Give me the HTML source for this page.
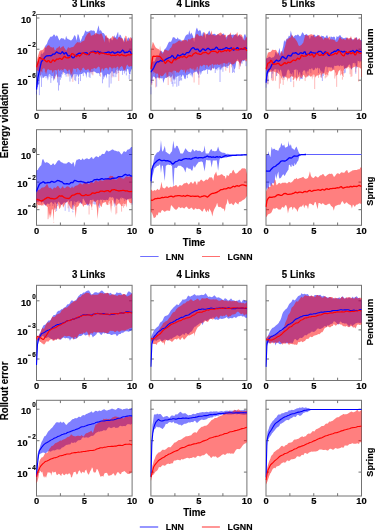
<!DOCTYPE html>
<html><head><meta charset="utf-8"><style>
html,body{margin:0;padding:0;background:#fff;width:375px;height:530px;overflow:hidden}
svg{display:block;will-change:transform;font-family:"Liberation Sans",sans-serif;font-weight:bold;fill:#000}
text{stroke:#000;stroke-width:0.15px}
</style></head><body>
<svg width="375" height="530" viewBox="0 0 375 530">
<rect width="375" height="530" fill="#fff"/>
<defs>
<clipPath id="cA0"><rect x="35.9" y="13.9" width="96.8" height="97"/></clipPath>
<clipPath id="cA1"><rect x="150.3" y="13.9" width="97.2" height="97"/></clipPath>
<clipPath id="cA2"><rect x="265.4" y="13.9" width="96.7" height="97"/></clipPath>
<clipPath id="cB0"><rect x="35.9" y="129.1" width="96.8" height="96.8"/></clipPath>
<clipPath id="cB1"><rect x="150.3" y="129.1" width="97.2" height="96.8"/></clipPath>
<clipPath id="cB2"><rect x="265.4" y="129.1" width="96.7" height="96.8"/></clipPath>
<clipPath id="cC0"><rect x="35.9" y="284.7" width="96.8" height="96.4"/></clipPath>
<clipPath id="cC1"><rect x="150.3" y="284.7" width="97.2" height="96.4"/></clipPath>
<clipPath id="cC2"><rect x="265.4" y="284.7" width="96.7" height="96.4"/></clipPath>
<clipPath id="cD0"><rect x="35.9" y="399.7" width="96.8" height="96.9"/></clipPath>
<clipPath id="cD1"><rect x="150.3" y="399.7" width="97.2" height="96.9"/></clipPath>
<clipPath id="cD2"><rect x="265.4" y="399.7" width="96.7" height="96.9"/></clipPath>
</defs>
<rect x="36.5" y="14.5" width="95.6" height="95.8" fill="none" stroke="#737373" stroke-width="1"/>
<path d="M60.4 14.5v2.8M60.4 110.3v-2.8M84.3 14.5v2.8M84.3 110.3v-2.8M108.2 14.5v2.8M108.2 110.3v-2.8M36.5 18h3M132.1 18h-3M36.5 49.2h3M132.1 49.2h-3M36.5 80.2h3M132.1 80.2h-3" stroke="#737373" stroke-width="1" fill="none"/>
<g clip-path="url(#cA0)">
<polygon points="36.5,75.51 37.46,61 38.41,62.15 38.89,62.45 39.37,61.04 40.32,57.05 41.28,50.41 41.47,53.8 42.24,54.32 43.19,52.52 44.15,52.45 45.01,47.1 45.1,46.11 46.06,45.11 47.02,43.49 47.97,40.8 48.64,39.43 48.93,39.35 49.88,37.38 50.84,36.38 51.8,36.87 52.75,35.89 53.71,34.43 54.66,34.83 55.62,36.68 56.58,35.24 57.53,36.04 58.49,38.58 59.44,40.38 60.4,38.93 61.36,37.92 62.31,38.43 63.27,38.3 64.22,39.28 65.18,40.04 66.14,35.8 67.09,38.84 68.05,38.87 69,39.7 69.96,39.84 70.92,40.8 71.87,39.86 72.83,38.73 73.78,36.48 74.74,34.99 75.7,36.84 76.65,40.67 77.61,34.15 78.56,34.87 79.52,38.33 80.48,41.84 81.43,39.09 82.01,38.03 82.39,36.34 83.34,35.44 84.3,33.54 85.26,30.56 85.64,30.5 86.21,31.43 87.17,31.85 88.12,31.83 89.08,31.24 90.04,30.68 90.99,30.19 91.95,30.59 92.9,30.82 93.86,30.42 94.82,31.2 95.77,35.24 96.73,31.89 97.68,28.54 98.64,25.21 99.6,30.87 100.07,30.96 100.55,29.69 101.51,31.37 102.46,33.01 103.42,32.93 104.38,34 105.33,35.66 105.52,35.42 106.29,37.09 107.24,38.23 108.2,37.87 109.16,43.12 110.11,37.82 111.07,38.7 112.02,40.49 112.98,39.23 113.94,35.84 114.61,35.44 114.89,37.37 115.85,37.14 116.8,34.71 117.76,32.37 118.24,32.14 118.72,38.37 119.67,34.49 120.63,35.08 121.58,37.3 121.87,38 122.54,39.06 123.5,42.47 124.45,37.13 125.41,38.38 126.36,42.16 127.32,39.05 128.28,37.16 129.23,38.55 130.19,41.14 131.14,38.71 132.1,36.63 132.1,68.25 131.14,70.27 130.19,73.17 129.23,74.79 128.28,69.59 127.32,68.69 126.36,72.44 125.41,69.7 124.45,69.75 123.5,70.94 122.54,70.89 121.87,70.39 121.58,70.58 120.63,71.31 119.67,70.47 118.72,70.79 118.24,69.47 117.76,69.57 116.8,69.8 115.85,70.81 114.89,73.57 114.61,72.59 113.94,74.32 112.98,71.9 112.02,71.34 111.07,71.94 110.11,73.83 109.16,75.32 108.2,74.01 107.24,73.67 106.29,78.77 105.52,73.76 105.33,73.93 104.38,77.58 103.42,77.52 102.46,72.57 101.51,72.4 100.55,72.54 100.07,72.79 99.6,74.38 98.64,73.12 97.68,73.27 96.73,73.3 95.77,72.55 94.82,71.68 93.86,71.54 92.9,71.72 91.95,72.45 90.99,71.79 90.04,72.94 89.08,72.54 88.12,71.56 87.17,72.31 86.21,78.2 85.64,73.43 85.26,73.53 84.3,72.3 83.34,72.52 82.39,73.53 82.01,73.93 81.43,74.09 80.48,74.33 79.52,74.32 78.56,77.82 77.61,74.6 76.65,74.56 75.7,74.37 74.74,74.32 73.78,74.21 72.83,75.29 71.87,79.16 70.92,76.26 69.96,73.58 69,74.13 68.05,72.96 67.09,73.78 66.14,74.07 65.18,73.52 64.22,72.8 63.27,71.76 62.31,72.64 61.36,75.21 60.4,77.91 59.44,76.65 58.49,76.55 57.53,77.84 56.58,74.36 55.62,75.02 54.66,76.99 53.71,81.24 52.75,76.07 51.8,76.07 50.84,75.38 49.88,73.86 48.93,74.34 48.64,75.9 47.97,80.87 47.02,76.15 46.06,75.96 45.1,76 45.01,75.69 44.15,77.33 43.19,77.94 42.24,75.22 41.47,74.36 41.28,74.57 40.32,76.74 39.37,81.19 38.89,85.74 38.41,82.94 37.46,85.74 36.5,90.39" fill="#0000ff" fill-opacity="0.5"/>
<path d="M36.5 90.39v4.06M37.46 85.74v1.09M38.41 82.94v1.58M39.37 81.19v14M41.47 74.36v12.56M42.24 75.22v2.93M46.06 75.96v2.23M49.88 73.86v2.79M50.84 75.38v7.52M51.8 76.07v2.04M54.66 76.99v1.4M55.62 75.02v1.75M57.53 77.84v4.67M58.49 76.55v14M59.44 76.65v8.61M60.4 77.91v1.88M61.36 75.21v2.56M62.31 72.64v2.05M65.18 73.52v1.46M66.14 74.07v2.58M68.05 72.96v1.16M69 74.13v1.28M69.96 73.58v8.01M72.83 75.29v1.11M74.74 74.32v5.86M75.7 74.37v6.76M76.65 74.56v1.89M78.56 77.82v6.26M80.48 74.33v6.74M83.34 72.52v3.6M88.12 71.56v1.35M89.08 72.54v4.37M90.04 72.94v5.02M91.95 72.45v1.99M99.6 74.38v1.37M102.46 72.57v10.7M103.42 77.52v1.78M105.33 73.93v1.3M109.16 75.32v12.18M111.07 71.94v11.65M112.98 71.9v4.26M113.94 74.32v2.9M115.85 70.81v6.32M116.8 69.8v4.39M117.76 69.57v1.27M118.24 69.47v3.55M122.54 70.89v3.94M124.45 69.75v3.69M125.41 69.7v1.81M126.36 72.44v2.97M129.23 74.79v4.46M130.19 73.17v1.04" stroke="#0000ff" stroke-opacity="0.35" stroke-width="0.9" fill="none"/>
<polygon points="36.5,62.45 37.46,57.82 38.41,54.82 39.37,51.51 40.32,50.54 41.28,50.23 42.24,50.01 43.19,49.5 44.15,48.06 45.01,46.35 45.1,47.2 46.06,48.12 47.02,45.84 47.97,45.75 48.93,44.85 49.88,46.19 50.84,47.35 51.8,47.29 52.75,47.83 53.71,46.89 54.66,50.14 55.62,50.28 56.58,48.3 57.53,47.86 58.49,47.35 59.44,45.68 60.4,48.23 61.36,47.31 62.31,46.74 63.27,45.87 64.22,47.64 65.18,49.11 66.14,50.79 67.09,49.26 68.05,47.26 69,47.57 69.96,48.24 70.92,47.32 71.87,47.16 72.83,46.89 73.78,46.48 74.74,45.12 75.7,43.87 76.65,42.82 77.61,41.99 78.56,42.41 79.52,42.3 80.48,42.88 81.43,42.03 82.01,41.28 82.39,41.51 83.34,40.88 84.3,40.56 85.26,37.5 86.21,35.65 87.17,34.37 88.12,33.13 89.08,32.83 90.04,32.21 90.99,36.07 91.95,35.22 92.9,35.13 93.86,34.68 94.82,33.84 95.77,33.02 96.73,33.31 97.68,33.92 98.64,34.36 99.6,34.57 100.55,33.49 101.51,33.51 102.46,35.8 103.42,38.58 103.9,40.14 104.38,42.47 105.33,36.08 106.29,35.01 107.24,36.99 108.2,38.29 109.16,38.78 110.11,39.03 111.07,38.19 112.02,36.77 112.98,35.82 113.94,37.46 114.89,37.68 115.85,38.35 116.8,39.42 117.76,39.2 118.24,37.14 118.72,37.17 119.67,36.71 120.63,37.89 121.58,38.31 122.54,38.34 123.5,40.23 124.45,42.16 125.41,35.69 126.36,36.05 127.32,40.41 128.28,41.26 129.23,38.84 130.19,36.99 131.14,37.91 132.1,38.68 132.1,66.23 131.14,66.27 130.19,66.15 129.23,67.04 128.28,65.92 127.32,64.42 126.36,65.96 125.41,69.59 124.45,70.69 123.5,69.56 122.54,66.75 121.58,66.01 120.63,66.96 119.67,67.14 118.72,71.38 118.24,67.24 117.76,66.43 116.8,67.17 115.85,68.14 114.89,67.76 113.94,67.3 112.98,68.3 112.02,68.88 111.07,67.94 110.11,67.05 109.16,67.4 108.2,70.66 107.24,67.98 106.29,67.74 105.33,67.91 104.38,68.84 103.9,71.23 103.42,69.97 102.46,68.35 101.51,68.98 100.55,73.68 99.6,67.3 98.64,66.45 97.68,67.22 96.73,68.14 95.77,68.93 94.82,68.1 93.86,68.29 92.9,69.06 91.95,68.8 90.99,69.47 90.04,71.86 89.08,70.05 88.12,68.69 87.17,68.92 86.21,70.36 85.26,70.02 84.3,68.68 83.34,67.59 82.39,68.21 82.01,70.26 81.43,69.68 80.48,70.19 79.52,70.31 78.56,68.82 77.61,68.03 76.65,67.88 75.7,68.93 74.74,69.11 73.78,68.34 72.83,69.58 71.87,73.28 70.92,75.45 69.96,70.45 69,69.19 68.05,71.37 67.09,71.16 66.14,69.61 65.18,69.04 64.22,68.66 63.27,69.98 62.31,70.37 61.36,68.75 60.4,70.01 59.44,71.12 58.49,69.01 57.53,70.31 56.58,70.43 55.62,70.11 54.66,69.91 53.71,70.49 52.75,73.21 51.8,70.36 50.84,70.37 49.88,70.18 48.93,69.5 47.97,69 47.02,70.4 46.06,74.48 45.1,70.64 45.01,69.08 44.15,67.97 43.19,68.43 42.24,69.86 41.28,72.09 40.32,71.22 39.37,71.94 38.41,71.1 37.46,70.46 36.5,70.43" fill="#ff0000" fill-opacity="0.5"/>
<path d="M40.32 71.22v3.8M42.24 69.86v2.76M44.15 67.97v1.69M45.1 70.64v1.15M54.66 69.91v9.45M57.53 70.31v7.97M61.36 68.75v2.05M63.27 69.98v3.61M68.05 71.37v5.34M72.83 69.58v12.25M76.65 67.88v3.87M80.48 70.19v1.84M82.01 70.26v0.88M87.17 68.92v1.11M90.99 69.47v3.85M92.9 69.06v6.3M100.55 73.68v2.97M112.02 68.88v8.59M113.94 67.3v1.31M115.85 68.14v5.45M118.72 71.38v9.62M119.67 67.14v1.17" stroke="#ff0000" stroke-opacity="0.3" stroke-width="0.9" fill="none"/>
<polyline points="36.5,89.6 37.46,80.32 38.41,75.36 39.37,71.04 40.32,66.3 41.28,62.16 42.24,60.57 43.19,59.64 44.15,58.41 45.1,57.01 46.06,56.18 47.02,55.73 47.97,55.79 48.93,55.58 49.88,55.56 50.84,55.86 51.8,55.27 52.75,54.23 53.71,54.1 54.66,54.15 55.62,52.91 56.58,51.82 57.53,52.52 58.49,53.15 59.44,53.2 60.4,53.72 61.36,52.97 62.31,51.72 63.27,52.77 64.22,54.05 65.18,52.98 66.14,52.65 67.09,54.42 68.05,55.86 69,55.91 69.96,55.47 70.92,55.88 71.87,56.94 72.83,57.9 73.78,57.65 74.74,56.42 75.7,55.58 76.65,54.78 77.61,54.15 78.56,53.28 79.52,53.12 80.48,53.41 81.43,53.38 82.39,53.52 83.34,53.2 84.3,52.91 85.26,52.78 86.21,52.55 87.17,53.03 88.12,54.51 89.08,54.65 90.04,52.66 90.99,51.88 91.95,51.68 92.9,51.28 93.86,51.33 94.82,51.32 95.77,52.06 96.73,52.23 97.68,51.25 98.64,51.9 99.6,52.46 100.55,52.15 101.51,52.76 102.46,53.03 103.42,53.12 104.38,53.09 105.33,52.53 106.29,52.71 107.24,52.48 108.2,51.88 109.16,52.16 110.11,52.79 111.07,52.73 112.02,51.94 112.98,51.95 113.94,52.93 114.89,53.28 115.85,52.8 116.8,52.32 117.76,51.77 118.72,52.05 119.67,52.61 120.63,52.36 121.58,51.25 122.54,50.03 123.5,50.92 124.45,52.76 125.41,52.61 126.36,52.06 127.32,52.35 128.28,51.79 129.23,51.02 130.19,51.55 131.14,53.42 132.1,53.8" fill="none" stroke="#0000ff" stroke-width="1.3" stroke-linejoin="round"/>
<polyline points="36.5,67.21 37.46,64.34 38.41,61.61 39.37,57.66 40.32,57.54 41.28,58.75 42.24,59.05 43.19,59.12 44.15,59.67 45.1,60.42 46.06,61.46 47.02,61.89 47.97,60.71 48.93,60.64 49.88,62.08 50.84,62.49 51.8,61.32 52.75,59.98 53.71,60.15 54.66,61.2 55.62,60.49 56.58,59.11 57.53,59.03 58.49,59.12 59.44,58.44 60.4,58.39 61.36,59.3 62.31,59.14 63.27,57.63 64.22,56.5 65.18,56.75 66.14,57.67 67.09,57.88 68.05,57.65 69,57.74 69.96,57.06 70.92,55.11 71.87,53.69 72.83,53.82 73.78,54.47 74.74,55.31 75.7,56.35 76.65,56.59 77.61,55.32 78.56,55.06 79.52,56.26 80.48,55.54 81.43,54.07 82.39,53.16 83.34,52.79 84.3,53.45 85.26,54.14 86.21,54.51 87.17,54.52 88.12,54.31 89.08,53.95 90.04,52.9 90.99,52.36 91.95,52.16 92.9,51.83 93.86,52.13 94.82,52.92 95.77,53.49 96.73,52.81 97.68,52.04 98.64,53.43 99.6,54.12 100.55,52.79 101.51,52.83 102.46,53.46 103.42,53.19 104.38,53.55 105.33,53.82 106.29,53.68 107.24,54.46 108.2,54.57 109.16,53.91 110.11,54.68 111.07,55.52 112.02,55.26 112.98,55.38 113.94,55.39 114.89,55.21 115.85,55.52 116.8,54.97 117.76,54.25 118.72,54.93 119.67,55.66 120.63,55.16 121.58,54.43 122.54,55 123.5,55.66 124.45,55.5 125.41,55.83 126.36,55.78 127.32,55.09 128.28,54.77 129.23,54.82 130.19,55.05 131.14,54.53 132.1,53.96" fill="none" stroke="#ff0000" stroke-width="1.3" stroke-linejoin="round"/>
</g>
<g font-size="9.4" text-anchor="middle"><text transform="translate(36.7,118.7) scale(1,1.03)" >0</text><text transform="translate(84.3,118.7) scale(1,1.03)" >5</text><text transform="translate(132.1,118.7) scale(1,1.03)" >10</text></g>
<text transform="translate(31.3,22.8) scale(1,1.07)" text-anchor="end" font-size="9.3">10</text>
<text transform="translate(35.9,16.1) scale(1,1.15)" text-anchor="end" font-size="6.4">2</text>
<text transform="translate(27.6,54) scale(1,1.07)" text-anchor="end" font-size="9.3">10</text>
<text transform="translate(35.9,47.3) scale(1,1.15)" text-anchor="end" font-size="6.4">2</text>
<rect x="28" y="44.9" width="2.7" height="1.1" fill="#000"/>
<text transform="translate(27.6,85) scale(1,1.07)" text-anchor="end" font-size="9.3">10</text>
<text transform="translate(35.9,78.3) scale(1,1.15)" text-anchor="end" font-size="6.4">6</text>
<rect x="28" y="75.9" width="2.7" height="1.1" fill="#000"/>
<rect x="150.9" y="14.5" width="96" height="95.8" fill="none" stroke="#737373" stroke-width="1"/>
<path d="M174.9 14.5v2.8M174.9 110.3v-2.8M198.9 14.5v2.8M198.9 110.3v-2.8M222.9 14.5v2.8M222.9 110.3v-2.8M150.9 18h3M246.9 18h-3M150.9 49.2h3M246.9 49.2h-3M150.9 80.2h3M246.9 80.2h-3" stroke="#737373" stroke-width="1" fill="none"/>
<g clip-path="url(#cA1)">
<polygon points="150.9,63.92 151.86,62.32 152.82,61.8 153.3,61.36 153.78,61.39 154.74,61.16 155.7,58.55 156.66,56.27 157.62,56 158.58,55.75 159.54,53.3 160.5,50.89 161.46,50.82 162.42,51.93 163.38,52.52 164.34,49.42 165.3,48.83 166.26,47.57 167.22,45.41 168.18,43.18 169.14,41.72 170.1,41.66 171.06,41.66 172.02,39.42 172.6,37.8 172.98,37.13 173.94,37.32 174.9,37.63 175.86,38.89 176.82,38.91 177.78,37.13 178.74,39.59 179.7,39.24 180.66,39.73 181.62,40.59 182.58,41.02 183.54,40.63 184.5,38.24 185.46,35.93 186.42,34.99 187.38,34.28 188.34,34.73 189.3,30.23 190.26,34.67 191.22,32.51 192.18,34.16 193.14,36.61 194.1,42.3 195.06,34.8 196.02,29.54 196.98,27.5 197.94,30.17 198.9,31.15 199.86,29.7 200.82,31.19 201.78,36.23 202.74,32.84 203.7,31.89 204.66,34.54 205.62,39 206.1,33.8 206.58,34.07 207.54,34.23 208.5,31.77 209.46,30.5 210.42,33.31 211.38,34.89 212.34,34.43 213.3,33.91 214.26,33.68 215.22,34.12 216.18,35.46 217.14,34.38 218.1,34.34 219.06,34.8 220.02,35.73 220.98,35.21 221.94,34.27 222.9,33.76 223.86,33.39 224.82,35.7 225.78,37.74 226.74,36.5 227.7,35.25 228.66,35.2 229.62,34.62 230.58,34.39 231.54,34.95 232.5,34.73 233.46,34.47 234.42,34.96 235.38,34.34 236.34,34.6 237.3,36.68 238.26,35.87 239.22,34.59 240.18,35.99 241.14,36.49 242.1,37.03 243.06,40.25 244.02,35.42 244.98,33.71 245.94,36.02 246.9,38.48 246.9,58.94 245.94,58.59 244.98,59.91 244.02,61.15 243.06,60.94 242.1,60.32 241.14,63.63 240.18,62.53 239.22,62.81 238.26,60.21 237.3,59.31 236.34,61.49 235.38,67.49 234.42,70.31 233.46,65.78 232.5,66.16 231.54,64.19 230.58,64.09 229.62,64.12 228.66,65.92 227.7,66.55 226.74,66.37 225.78,67.1 224.82,66.47 223.86,66.42 222.9,67.13 221.94,67.37 220.98,70.41 220.02,68.02 219.06,67.12 218.1,67.86 217.14,69.04 216.18,69.21 215.22,69.82 214.26,67.23 213.3,68.9 212.34,67.86 211.38,70.46 210.42,70.52 209.46,69.53 208.5,69.65 207.54,69.28 206.58,69.11 206.1,70.04 205.62,70.09 204.66,70.42 203.7,70.32 202.74,71.01 201.78,71.36 200.82,75.35 199.86,70.62 198.9,75.34 197.94,74.07 196.98,71.73 196.02,71.44 195.06,72.27 194.1,72.15 193.14,72.93 192.18,77.71 191.22,73.53 190.26,72.33 189.3,73.94 188.34,74.28 187.38,75.55 186.42,74.79 185.46,79.37 184.5,78.73 183.54,75.39 182.58,74.58 181.62,77.82 180.66,74.58 179.7,75.48 178.74,76.08 177.78,75.83 176.82,77.98 175.86,76.37 174.9,81.43 173.94,78.33 172.98,81.41 172.6,75.48 172.02,75.64 171.06,77.43 170.1,76.13 169.14,76.28 168.18,76.74 167.22,77.2 166.26,78.1 165.3,77.86 164.34,79.23 163.38,83.3 162.42,77.66 161.46,78.4 160.5,78.28 159.54,77.83 158.58,77.67 157.62,77.45 156.66,78.06 155.7,78.81 154.74,77.2 153.78,76.45 153.3,76.43 152.82,77.39 151.86,81.64 150.9,86.63" fill="#0000ff" fill-opacity="0.5"/>
<path d="M150.9 86.63v7.75M151.86 81.64v1.27M156.66 78.06v8.57M170.1 76.13v1.74M172.02 75.64v8.36M172.98 81.41v5.18M174.9 81.43v2.31M176.82 77.98v8.78M178.74 76.08v9.71M179.7 75.48v5.61M180.66 74.58v5.67M181.62 77.82v2.71M187.38 75.55v2.57M190.26 72.33v2.99M198.9 75.34v2.31M207.54 69.28v4.61M215.22 69.82v3.17M217.14 69.04v1.35M219.06 67.12v2.38M220.02 68.02v14M222.9 67.13v4.62M226.74 66.37v1.41M227.7 66.55v1.52M229.62 64.12v1.05M232.5 66.16v6.74M233.46 65.78v6.14M234.42 70.31v2.43M240.18 62.53v4.06M242.1 60.32v3.4M245.94 58.59v7.56" stroke="#0000ff" stroke-opacity="0.35" stroke-width="0.9" fill="none"/>
<polygon points="150.9,50.96 151.86,46.22 152.82,41.71 153.78,43.57 154.74,45.82 155.7,47.46 156.66,48.31 157.62,48.82 158.58,49.08 159.54,50.77 160.02,45.6 160.5,50.07 161.46,52.28 162.42,54.1 163.38,52.17 164.34,50.23 165.3,49.63 166.26,49.91 167.22,50.43 168.18,50.84 169.14,50.15 170.1,48.26 171.06,47.81 172.02,45.75 172.6,43.95 172.98,43.86 173.94,43.42 174.9,43.4 175.86,42.84 176.82,42.19 177.78,41.47 178.07,40.99 178.74,40.65 179.7,40.41 180.66,41.61 181.62,41.58 182.58,40.01 183.54,39.77 184.5,40.26 185.46,40 186.42,40.04 187.09,41.03 187.38,41.78 188.34,39 189.3,39.6 190.26,39.58 191.22,38.45 192.18,37.71 193.14,37.71 194.1,38.33 195.06,37.36 196.02,34.87 196.98,33.66 197.94,34.53 198.9,35.74 199.86,36.29 200.82,35.43 201.78,35.72 202.74,36.86 203.7,33.86 204.66,31.88 205.62,33.96 206.1,34.92 206.58,34.67 207.54,32.88 208.5,35.23 209.46,34.82 210.42,34.39 211.38,30.45 212.34,34.54 213.3,34.98 214.26,35.21 215.22,35.74 216.18,35.18 217.14,34.63 218.1,33.96 219.06,33.4 220.02,32.65 220.98,32.5 221.94,33.79 222.9,34.9 223.86,35.28 224.82,34.72 225.78,34.77 226.74,40.02 227.7,35.34 228.66,34.76 229.62,34.43 230.58,32.34 231.54,36.3 232.5,38.46 233.46,36.54 234.42,35.06 235.38,34.86 236.34,34 237.3,31.98 238.26,36.41 239.22,34.45 240.18,34.48 241.14,34.58 242.1,35.48 243.06,38.11 244.02,40.35 244.98,40.14 245.94,37.12 246.9,37.39 246.9,60.13 245.94,61.81 244.98,60.12 244.02,59.85 243.06,60.41 242.1,60.29 241.14,62.44 240.18,66.53 239.22,62.66 238.26,61.14 237.3,60.95 236.34,61.37 235.38,62.56 234.42,63.64 233.46,64.24 232.5,64.4 231.54,64.31 230.58,62.85 229.62,62.3 228.66,62.48 227.7,63.13 226.74,63.65 225.78,63.63 224.82,63.16 223.86,62.98 222.9,63.43 221.94,63.72 220.98,63.85 220.02,64.59 219.06,65.09 218.1,64.76 217.14,63.94 216.18,65.17 215.22,64.34 214.26,65 213.3,64.74 212.34,64.08 211.38,64.42 210.42,65.35 209.46,65.45 208.5,67.22 207.54,65.23 206.58,64.92 206.1,65.52 205.62,65.72 204.66,65.01 203.7,64.75 202.74,65.62 201.78,66.69 200.82,65.4 199.86,65.64 198.9,70.85 197.94,67.28 196.98,66.46 196.02,71.25 195.06,68.78 194.1,72.06 193.14,67.92 192.18,70.05 191.22,68.43 190.26,68.37 189.3,68.83 188.34,69.73 187.38,69.54 187.09,70.25 186.42,70.24 185.46,73.91 184.5,69.64 183.54,69.73 182.58,70.04 181.62,69.42 180.66,69.83 179.7,71.35 178.74,72.49 178.07,72.74 177.78,71.87 176.82,72.9 175.86,70.91 174.9,70.64 173.94,70.57 172.98,70.93 172.6,71.02 172.02,72.19 171.06,72.67 170.1,72.02 169.14,71.87 168.18,72.89 167.22,77.72 166.26,71.7 165.3,72.92 164.34,74.06 163.38,75.38 162.42,76.11 161.46,76.26 160.5,75.32 160.02,76.12 159.54,80.17 158.58,75.47 157.62,73.57 156.66,73.66 155.7,73.54 154.74,72.74 153.78,72.1 152.82,71.58 151.86,70.83 150.9,70.28" fill="#ff0000" fill-opacity="0.5"/>
<path d="M151.86 70.83v14M153.78 72.1v1.76M155.7 73.54v13.86M158.58 75.47v3.05M166.26 71.7v6.21M168.18 72.89v12.17M169.14 71.87v3.8M171.06 72.67v8.97M172.6 71.02v3.26M173.94 70.57v7.97M183.54 69.73v2.05M187.09 70.25v1.49M188.34 69.73v1.95M189.3 68.83v2.96M194.1 72.06v10.48M197.94 67.28v5.93M198.9 70.85v14M205.62 65.72v2.58M211.38 64.42v5.53M213.3 64.74v3.83M220.98 63.85v1.75M221.94 63.72v4.27M222.9 63.43v2.25M225.78 63.63v7.1M227.7 63.13v2.55M229.62 62.3v10.41M231.54 64.31v3.05M239.22 62.66v6.5" stroke="#ff0000" stroke-opacity="0.3" stroke-width="0.9" fill="none"/>
<polyline points="150.9,72.24 151.86,70.45 152.82,69.38 153.78,67.77 154.74,65.53 155.7,63.63 156.66,62.23 157.62,61.77 158.58,61.86 159.54,61.3 160.5,60.39 161.46,60.81 162.42,61.16 163.38,60.71 164.34,60.45 165.3,59.84 166.26,59.13 167.22,58.62 168.18,58.22 169.14,57.53 170.1,57.4 171.06,56.79 172.02,55.49 172.98,56.14 173.94,57.84 174.9,58.44 175.86,58.25 176.82,56.46 177.78,54.8 178.74,55.54 179.7,55.98 180.66,55.28 181.62,54.76 182.58,54.02 183.54,54.1 184.5,54.89 185.46,54.24 186.42,52.76 187.38,52.51 188.34,52.73 189.3,52.06 190.26,50.51 191.22,49.01 192.18,48.13 193.14,47.72 194.1,48.03 195.06,49.46 196.02,49.66 196.98,49.05 197.94,49.18 198.9,50.66 199.86,51.64 200.82,51.08 201.78,49.9 202.74,48.88 203.7,49.07 204.66,50.04 205.62,50.39 206.58,49.37 207.54,48.4 208.5,48.5 209.46,49.2 210.42,50.1 211.38,50.05 212.34,49.41 213.3,49.37 214.26,49.31 215.22,48.41 216.18,47.25 217.14,47.52 218.1,49.17 219.06,49.84 220.02,49.47 220.98,49.68 221.94,49.67 222.9,49.13 223.86,49.01 224.82,48.45 225.78,47.71 226.74,47.77 227.7,48.31 228.66,48.77 229.62,48.79 230.58,48.01 231.54,47.76 232.5,49.17 233.46,50.21 234.42,49.78 235.38,49.17 236.34,48.44 237.3,47.56 238.26,48.34 239.22,49.68 240.18,49.23 241.14,48.64 242.1,49.05 243.06,49.27 244.02,48.75 244.98,47.82 245.94,48 246.9,48.94" fill="none" stroke="#0000ff" stroke-width="1.3" stroke-linejoin="round"/>
<polyline points="150.9,68.83 151.86,62.83 152.82,56.53 153.78,56.1 154.74,56.29 155.7,56.44 156.66,56.2 157.62,56.12 158.58,56.44 159.54,56.46 160.5,57.07 161.46,58.33 162.42,59.54 163.38,60.66 164.34,61.92 165.3,63.35 166.26,62.38 167.22,60.91 168.18,60.51 169.14,61.23 170.1,61.96 171.06,62.83 172.02,62.85 172.98,60.79 173.94,59.24 174.9,59.56 175.86,59.84 176.82,58.95 177.78,57.98 178.74,58.02 179.7,57.67 180.66,56.54 181.62,56.83 182.58,57.18 183.54,56.2 184.5,56.31 185.46,57.24 186.42,57.77 187.38,56.96 188.34,55.88 189.3,55.74 190.26,55.62 191.22,56.21 192.18,55.77 193.14,54.2 194.1,53.49 195.06,52.97 196.02,52.68 196.98,53.49 197.94,53.83 198.9,53.92 199.86,54.29 200.82,54.42 201.78,53.79 202.74,52.83 203.7,52.6 204.66,52.64 205.62,52.26 206.58,52.68 207.54,53.6 208.5,53.81 209.46,53.29 210.42,52.06 211.38,51.41 212.34,51.35 213.3,51.21 214.26,51.31 215.22,51.29 216.18,51.88 217.14,52.93 218.1,52.35 219.06,50.92 220.02,50.95 220.98,51.83 221.94,51.68 222.9,51.27 223.86,51.05 224.82,50.16 225.78,50.73 226.74,51.03 227.7,49.48 228.66,50.01 229.62,51.26 230.58,50.56 231.54,49.58 232.5,48.76 233.46,48.05 234.42,48.6 235.38,49.58 236.34,49.75 237.3,49.8 238.26,49.99 239.22,49.47 240.18,48.63 241.14,48.82 242.1,49.23 243.06,48.95 244.02,47.99 244.98,47.79 245.94,49.36 246.9,51.01" fill="none" stroke="#ff0000" stroke-width="1.3" stroke-linejoin="round"/>
</g>
<g font-size="9.4" text-anchor="middle"><text transform="translate(151.1,118.7) scale(1,1.03)" >0</text><text transform="translate(198.9,118.7) scale(1,1.03)" >5</text><text transform="translate(246.9,118.7) scale(1,1.03)" >10</text></g>
<rect x="266" y="14.5" width="95.5" height="95.8" fill="none" stroke="#737373" stroke-width="1"/>
<path d="M289.88 14.5v2.8M289.88 110.3v-2.8M313.75 14.5v2.8M313.75 110.3v-2.8M337.62 14.5v2.8M337.62 110.3v-2.8M266 18h3M361.5 18h-3M266 49.2h3M361.5 49.2h-3M266 80.2h3M361.5 80.2h-3" stroke="#737373" stroke-width="1" fill="none"/>
<g clip-path="url(#cA2)">
<polygon points="266,58.96 266.95,58.02 267.91,57.94 268.39,57.23 268.87,56.83 269.82,56.81 270.77,57.56 271.73,57.94 272.69,57.23 273.64,57.3 274.6,55.65 275.55,51.44 276.5,52.81 276.89,53.72 277.46,54.84 278.42,52.33 279.37,47.69 280.32,51.88 280.52,53.78 281.28,52.81 282.24,50.3 283.19,46.14 284.14,39.97 285.1,42 286.06,39.77 287.01,38.62 287.77,38.57 287.96,38.31 288.92,35.4 289.88,36.61 290.83,30.51 291.79,34.68 292.74,36.18 293.22,36.66 293.69,36.79 294.65,35.69 295.61,35.11 296.56,35.39 297.51,34.61 298.47,34.71 299.43,36.33 300.38,36.19 301.33,34.5 302.29,32.34 303.25,32.91 304.2,34.9 305.15,34.95 306.11,33.95 307.06,34.45 308.02,35.45 308.98,36.23 309.93,39.31 310.88,35.8 311.84,35.91 312.03,36.51 312.8,36.06 313.75,34.45 314.7,34.67 315.66,36.14 316.62,36.16 317.57,34.8 318.52,35.23 319.48,36.87 320.44,36.91 321.1,36.45 321.39,35.48 322.35,35.88 323.3,36.01 324.25,36.95 325.21,37.84 326.17,36.03 327.12,34.9 328.07,37.39 329.03,39.43 329.99,39.46 330.18,37.81 330.94,36.21 331.89,37.01 332.85,37.31 333.81,36.58 334.76,36.9 335.72,40.13 336.67,36.1 337.62,36.98 338.58,36.52 339.53,35.28 340.49,35.24 341.06,36.44 341.44,36.97 342.4,37.43 343.36,38.32 344.31,38.26 345.26,37.67 346.22,37.6 347.18,38.03 348.13,38.88 349.08,39.87 350.04,38.17 351,37.83 351.95,39.21 352.9,39.34 353.86,39.53 354.81,38.95 355.77,37.86 356.73,36.95 357.3,38.76 357.68,40.05 358.63,39.14 359.59,39.41 360.55,40.31 361.5,39.39 361.5,60.77 360.55,60.93 359.59,61.26 358.63,61.32 357.68,60.49 357.3,66.75 356.73,68.87 355.77,63.7 354.81,62.52 353.86,63.29 352.9,62.7 351.95,69.59 351,69.08 350.04,64.81 349.08,64.56 348.13,65.8 347.18,67.3 346.22,67.75 345.26,68.3 344.31,69.51 343.36,65.35 342.4,66.04 341.44,66.13 341.06,65.26 340.49,65.35 339.53,66.38 338.58,65.49 337.62,65.47 336.67,65.7 335.72,65.99 334.76,65.79 333.81,66.02 332.85,70.2 331.89,67.19 330.94,67.81 330.18,67.24 329.99,67.46 329.03,66.92 328.07,67.48 327.12,66.74 326.17,66.44 325.21,67.05 324.25,72.43 323.3,73.3 322.35,71.32 321.39,71.48 321.1,74.6 320.44,70.76 319.48,68.27 318.52,68.18 317.57,67.39 316.62,69.06 315.66,67.45 314.7,69.38 313.75,70.42 312.8,69.7 312.03,68.12 311.84,68.05 310.88,69.83 309.93,68.75 308.98,69.43 308.02,72.88 307.06,70.19 306.11,75.52 305.15,70.84 304.2,70.32 303.25,70.75 302.29,72.76 301.33,76.69 300.38,71.86 299.43,72.14 298.47,76.23 297.51,70.3 296.56,69.2 295.61,69.55 294.65,69.67 293.69,70.57 293.22,75.84 292.74,71.18 291.79,74.24 290.83,74.84 289.88,71.72 288.92,69.89 287.96,69.16 287.77,69.66 287.01,71.55 286.06,77.09 285.1,75.31 284.14,78.03 283.19,77.44 282.24,75.51 281.28,70.82 280.52,69.79 280.32,69.32 279.37,72.63 278.42,69.85 277.46,69.14 276.89,69.5 276.5,69.73 275.55,69.22 274.6,69.28 273.64,70.29 272.69,70.65 271.73,71.13 270.77,69.16 269.82,71.42 268.87,71.75 268.39,73.08 267.91,75.48 266.95,77.15 266,78.97" fill="#0000ff" fill-opacity="0.5"/>
<path d="M266 78.97v8.72M266.95 77.15v3.75M267.91 75.48v8.39M271.73 71.13v7.08M272.69 70.65v3.07M273.64 70.29v0.87M276.5 69.73v6.4M277.46 69.14v3.79M289.88 71.72v1.88M290.83 74.84v7.04M292.74 71.18v5.45M293.69 70.57v6.03M296.56 69.2v8.68M300.38 71.86v7.34M301.33 76.69v2.17M302.29 72.76v6.3M308.02 72.88v3.74M310.88 69.83v3.44M318.52 68.18v4.94M321.1 74.6v2.78M322.35 71.32v9.7M323.3 73.3v2.74M327.12 66.74v5.45M333.81 66.02v3.37M344.31 69.51v3.88M345.26 68.3v4.44M354.81 62.52v1.86M355.77 63.7v10.07M359.59 61.26v1.32M360.55 60.93v0.81" stroke="#0000ff" stroke-opacity="0.35" stroke-width="0.9" fill="none"/>
<polygon points="266,59.29 266.95,56.36 267.91,52.71 268.87,52.28 269.82,51.98 270.77,51.85 271.73,50.53 272.69,49.54 273.64,50.01 274.6,50.05 275.55,49.71 276.5,50.51 276.89,51.55 277.46,52.52 278.42,53.11 279.37,55.03 280.32,56.43 280.52,53.46 281.28,50.91 282.24,51.64 283.19,55.15 284.14,49.3 285.1,46.17 286.06,42.58 287.01,38.18 287.77,40.09 287.96,39.73 288.92,37.9 289.88,37.68 290.83,37.24 291.79,34.56 292.74,36.05 293.22,37.22 293.69,38.15 294.65,38.35 295.03,38.02 295.61,39.67 296.56,40.65 297.51,42.55 298.47,45.25 299.43,46.1 300.38,45.55 301.33,45.01 302.29,43.7 303.25,42.86 304.2,38.71 305.15,35.2 306.11,34.84 307.06,36.02 308.02,35.49 308.98,34.98 309.93,34.81 310.88,34.31 311.84,34.37 312.03,34.89 312.8,34.38 313.75,35.18 314.7,37.23 315.66,37.27 316.62,36.26 317.57,36.03 318.52,35.25 319.48,35.32 320.44,36.55 321.1,36.89 321.39,36.88 322.35,37.71 323.3,39.99 324.25,38.31 325.21,37.76 326.17,38.35 327.12,38.47 328.07,38.07 329.03,36.88 329.99,36.59 330.18,38.64 330.94,39.81 331.89,39.2 332.85,39.57 333.81,40.01 334.76,40.27 335.72,41.74 336.67,41.99 337.62,41.53 338.58,39.65 339.53,37.47 340.49,37.35 341.06,37.97 341.44,38.99 342.4,39.57 343.36,38.87 344.31,39.28 345.26,40.27 346.22,38.41 347.18,37.34 348.13,38.41 349.08,38.07 350.04,38.24 351,35.88 351.95,39.3 352.9,40.42 353.86,39 354.81,37.56 355.77,37.78 356.73,38 357.3,40.33 357.68,39.65 358.63,38.75 359.59,37.93 360.55,40.18 361.5,41.32 361.5,67.48 360.55,68.66 359.59,67.5 358.63,67.62 357.68,66.89 357.3,67.33 356.73,66.49 355.77,66.21 354.81,66.81 353.86,67 352.9,67.69 351.95,68.17 351,68.46 350.04,68.35 349.08,66.99 348.13,66.87 347.18,68.33 346.22,68.62 345.26,68.27 344.31,68.63 343.36,71.86 342.4,76.93 341.44,72.69 341.06,69.55 340.49,69.5 339.53,70.28 338.58,71.27 337.62,74.55 336.67,75.92 335.72,74.26 334.76,70.69 333.81,69.73 332.85,70.33 331.89,71.11 330.94,71.57 330.18,71.19 329.99,70.47 329.03,71.43 328.07,73.88 327.12,75.43 326.17,73.56 325.21,75.96 324.25,73.1 323.3,73.84 322.35,73.39 321.39,76.7 321.1,73.76 320.44,72.7 319.48,74.86 318.52,75.59 317.57,75.4 316.62,75.6 315.66,77.7 314.7,75.07 313.75,74.47 312.8,74.86 312.03,80.11 311.84,75.88 310.88,76.74 309.93,76.16 308.98,75.07 308.02,76.01 307.06,76.72 306.11,76.68 305.15,78.01 304.2,75.49 303.25,74.66 302.29,77.28 301.33,78.21 300.38,76.82 299.43,76.29 298.47,77.13 297.51,77.44 296.56,81.4 295.61,76.65 295.03,79.19 294.65,77.31 293.69,81.1 293.22,77.95 292.74,76.63 291.79,76.03 290.83,76.67 289.88,77.8 288.92,78.89 287.96,77.43 287.77,81.7 287.01,77.55 286.06,77.4 285.1,76.81 284.14,76.2 283.19,76 282.24,76.85 281.28,78.38 280.52,78.17 280.32,76.05 279.37,74.62 278.42,73.65 277.46,72.69 276.89,72.31 276.5,72.5 275.55,72.14 274.6,71.65 273.64,71.85 272.69,71.6 271.73,71.96 270.77,71.4 269.82,72.06 268.87,72.73 267.91,70.49 266.95,69.83 266,71.57" fill="#ff0000" fill-opacity="0.5"/>
<path d="M267.91 70.49v14M271.73 71.96v8.29M272.69 71.6v9.49M273.64 71.85v8.73M275.55 72.14v8.64M276.89 72.31v3.45M279.37 74.62v14M280.52 78.17v5.41M282.24 76.85v2.96M283.19 76v8.94M284.14 76.2v3.65M293.22 77.95v2.09M293.69 81.1v6.05M297.51 77.44v0.86M299.43 76.29v4.53M300.38 76.82v0.91M305.15 78.01v3.04M306.11 76.68v1.21M313.75 74.47v2.21M314.7 75.07v14M318.52 75.59v2.24M320.44 72.7v2.04M321.1 73.76v3.3M321.39 76.7v1.14M325.21 75.96v2.43M326.17 73.56v3.85M327.12 75.43v1.12M328.07 73.88v1.6M334.76 70.69v7.85M335.72 74.26v2.06M336.67 75.92v10.95M340.49 69.5v5.86M341.06 69.55v1.7M341.44 72.69v0.99M342.4 76.93v2.74M343.36 71.86v5.14M349.08 66.99v1.67M350.04 68.35v5.88M351 68.46v8.52M351.95 68.17v8.12M355.77 66.21v6.01M358.63 67.62v14M361.5 67.48v9.46" stroke="#ff0000" stroke-opacity="0.3" stroke-width="0.9" fill="none"/>
<polyline points="266,82.71 266.95,74.29 267.91,71.03 268.87,69.59 269.82,68.96 270.77,67.31 271.73,64.9 272.69,63.53 273.64,62.71 274.6,62.1 275.55,60.91 276.5,60.07 277.46,60.63 278.42,61.15 279.37,60.74 280.32,59.88 281.28,58.07 282.24,56.49 283.19,56.89 284.14,57.62 285.1,58.31 286.06,58.82 287.01,57.32 287.97,55.45 288.92,55.44 289.88,55.96 290.83,55.98 291.79,54.77 292.74,53.19 293.69,53.22 294.65,53.2 295.61,52.66 296.56,53.19 297.51,54.09 298.47,54.41 299.43,53.65 300.38,52.83 301.33,52.87 302.29,53.33 303.25,53.37 304.2,51.81 305.16,51.99 306.11,54.49 307.06,54.59 308.02,54.2 308.98,54.38 309.93,52.75 310.88,51.82 311.84,52.55 312.8,52.95 313.75,52.97 314.7,53.04 315.66,53.19 316.62,53.61 317.57,52.73 318.52,51.36 319.48,51.29 320.44,51.36 321.39,51.74 322.35,53.24 323.3,54.22 324.25,52.89 325.21,51.77 326.17,52.25 327.12,53.25 328.07,54.77 329.03,55.56 329.99,55.24 330.94,53.65 331.89,52.63 332.85,52.46 333.81,51.57 334.76,51.03 335.72,51.27 336.67,50.99 337.62,49.69 338.58,49.77 339.53,51.31 340.49,51.38 341.44,51.31 342.4,52.08 343.36,51.95 344.31,51.26 345.26,51.89 346.22,53.49 347.18,53.91 348.13,53.85 349.09,52.95 350.04,51.32 351,51.28 351.95,51.04 352.9,50.43 353.86,51.55 354.81,52.41 355.77,51.39 356.73,50.22 357.68,50.73 358.63,51.4 359.59,51.35 360.55,51.58 361.5,52.21" fill="none" stroke="#0000ff" stroke-width="1.3" stroke-linejoin="round"/>
<polyline points="266,68.95 266.95,66.2 267.91,63.08 268.87,62.89 269.82,62.43 270.77,60.35 271.73,60.73 272.69,63.61 273.64,64.33 274.6,63.95 275.55,64.05 276.5,63.85 277.46,63.43 278.42,63.39 279.37,64.11 280.32,65.47 281.28,65.5 282.24,64.69 283.19,64.09 284.14,63 285.1,62.75 286.06,63.74 287.01,63.34 287.97,62.23 288.92,62.3 289.88,62.62 290.83,62.16 291.79,61.35 292.74,60.44 293.69,59.98 294.65,60.43 295.61,60.53 296.56,59.35 297.51,58.21 298.47,58.64 299.43,59.25 300.38,57.89 301.33,55.48 302.29,55.36 303.25,56.28 304.2,56.16 305.16,56.02 306.11,56.01 307.06,55.51 308.02,54.39 308.98,54.3 309.93,55.22 310.88,55.1 311.84,54.04 312.8,54.98 313.75,57.1 314.7,56.32 315.66,54.34 316.62,53.33 317.57,53.61 318.52,54.69 319.48,55.44 320.44,55.28 321.39,54.66 322.35,55.18 323.3,55.44 324.25,54.52 325.21,53.5 326.17,52.65 327.12,52.44 328.07,53.08 329.03,54.01 329.99,54.73 330.94,55.11 331.89,54.85 332.85,54.56 333.81,54.35 334.76,53.42 335.72,53.26 336.67,54.07 337.62,53.01 338.58,51.4 339.53,51.47 340.49,52.52 341.44,54.11 342.4,55.17 343.36,55.84 344.31,55.55 345.26,53.3 346.22,51.75 347.18,52.62 348.13,52.93 349.09,51.75 350.04,52.58 351,53.71 351.95,53.12 352.9,52.6 353.86,53.16 354.81,54.83 355.77,54.74 356.73,52.5 357.68,51.74 358.63,52.64 359.59,53.22 360.55,53.2 361.5,53.28" fill="none" stroke="#ff0000" stroke-width="1.3" stroke-linejoin="round"/>
</g>
<g font-size="9.4" text-anchor="middle"><text transform="translate(266.2,118.7) scale(1,1.03)" >0</text><text transform="translate(313.75,118.7) scale(1,1.03)" >5</text><text transform="translate(361.5,118.7) scale(1,1.03)" >10</text></g>
<rect x="36.5" y="129.7" width="95.6" height="95.6" fill="none" stroke="#737373" stroke-width="1"/>
<path d="M60.4 129.7v2.8M60.4 225.3v-2.8M84.3 129.7v2.8M84.3 225.3v-2.8M108.2 129.7v2.8M108.2 225.3v-2.8M36.5 154.5h3M132.1 154.5h-3M36.5 182.1h3M132.1 182.1h-3M36.5 209.7h3M132.1 209.7h-3" stroke="#737373" stroke-width="1" fill="none"/>
<g clip-path="url(#cB0)">
<polygon points="36.5,170.83 37.46,169.76 37.84,170.24 38.41,168.42 39.37,167.19 40.32,165.9 41.28,165.3 41.47,164.14 42.24,159.68 43.19,159.12 44.15,161.15 45.1,163.01 46.06,162.14 47.02,162.28 47.97,162.78 48.93,163.3 49.88,164.15 50.84,165.24 51.8,164.79 52.75,163.48 53.71,163.53 54.19,164.81 54.66,165.11 55.62,164 56.58,162.44 57.53,160.96 58.49,160.31 59.44,160.19 60.4,161.54 61.36,162.21 62.31,162.38 63.27,163.37 64.22,163.48 65.18,163.54 66.14,163.74 67.09,163.05 68.05,162.34 68.62,161.99 69,161.91 69.96,162.76 70.92,163.54 71.87,164.15 72.25,163.8 72.83,162.13 73.78,162.5 74.74,166.9 75.7,162.05 76.65,159.76 77.61,159.82 78.56,159.23 79.52,158.88 80.48,159.9 81.43,159.99 82.01,158.88 82.39,158.19 83.34,159.52 84.3,159.76 85.26,158.9 86.21,158.43 87.17,158.14 88.12,158.89 89.08,159.19 90.04,158.49 90.99,157.46 91.95,156.98 92.9,159.11 93.86,158.48 94.82,157.36 95.77,156.43 96.73,156.23 97.68,157.03 98.64,157.15 99.6,155.65 100.07,155.62 100.55,156.09 101.51,154.47 102.46,153.67 103.42,154.11 104.38,153.99 105.33,152.33 106.29,150.51 107.24,150.38 108.2,151.43 109.16,151.32 110.11,150.82 111.07,150.27 112.02,149.58 112.98,149.59 113.94,150.24 114.89,150.73 115.85,150.73 116.8,151.19 117.76,151.62 118.72,151.14 119.67,152.09 120.63,153.58 121.58,154.52 122.54,153.31 123.5,151.4 124.45,151.37 125.41,151.96 126.36,151.51 127.32,149.82 128.28,149.41 129.23,149.36 130.19,148.15 131.14,146.9 132.1,147.03 132.1,198.06 131.14,198.39 130.19,198.64 129.23,198.78 128.28,199.03 127.32,199.53 126.36,200.32 125.41,199.36 124.45,198.58 123.5,198.58 122.54,197.96 121.58,197.28 120.63,198.03 119.67,199.86 118.72,200.09 117.76,199.22 116.8,198.16 115.85,199.83 114.89,207.44 113.94,199.03 112.98,197.26 112.02,197.22 111.07,197.75 110.11,196.74 109.16,197.62 108.2,200.1 107.24,199.99 106.29,199.63 105.33,200.45 104.38,200.04 103.42,200.07 102.46,199.28 101.51,200.02 100.55,199.4 100.07,200.32 99.6,200.69 98.64,200.01 97.68,199.8 96.73,200.38 95.77,201.61 94.82,202.38 93.86,200.08 92.9,199.57 91.95,200.31 90.99,199.99 90.04,200.12 89.08,204.64 88.12,204.54 87.17,205.86 86.21,203.47 85.26,202.3 84.3,200.29 83.34,198.6 82.39,199.54 82.01,202.59 81.43,204.14 80.48,203.03 79.52,200.96 78.56,200.46 77.61,201.62 76.65,202.3 75.7,202.57 74.74,201.6 73.78,201.37 72.83,210.91 72.25,206.97 71.87,201.19 70.92,201.02 69.96,201.96 69,202.31 68.62,200.15 68.05,200.48 67.09,202.08 66.14,202.79 65.18,202.41 64.22,202.34 63.27,203.08 62.31,204.52 61.36,205.12 60.4,204.25 59.44,202.52 58.49,201.56 57.53,202.7 56.58,204.98 55.62,202.77 54.66,201.56 54.19,202.47 53.71,204.25 52.75,204.02 51.8,202.26 50.84,202.3 49.88,203.52 48.93,204.16 47.97,203.47 47.02,203.64 46.06,205.54 45.1,205.42 44.15,203.56 43.19,201.99 42.24,201.92 41.47,204.49 41.28,201.29 40.32,199.8 39.37,200.33 38.41,202.33 37.84,202.7 37.46,201.66 36.5,201.77" fill="#0000ff" fill-opacity="0.5"/>
<path d="M39.37 200.33v1.87M49.88 203.52v2.68M52.75 204.02v1.98M54.66 201.56v7.72M56.58 204.98v6.01M57.53 202.7v3.44M65.18 202.41v8.45M69 202.31v9.54M69.96 201.96v1.56M72.83 210.91v1.47M73.78 201.37v5.16M74.74 201.6v2.36M75.7 202.57v2.35M78.56 200.46v2.3M79.52 200.96v1.86M82.39 199.54v3.79M89.08 204.64v1.42M91.95 200.31v3.31M93.86 200.08v4.04M94.82 202.38v2.24M95.77 201.61v2.85M98.64 200.01v6.47M99.6 200.69v7.17M102.46 199.28v2.88M119.67 199.86v2.46M121.58 197.28v1.97M124.45 198.58v2.64M132.1 198.06v6.43" stroke="#0000ff" stroke-opacity="0.3" stroke-width="0.9" fill="none"/>
<polygon points="36.5,193.48 37.46,190.87 37.84,189.95 38.41,189.84 39.37,189.68 40.32,189.31 41.28,188.12 42.24,187.41 43.19,187.46 44.15,187.24 45.1,186.46 46.06,185.32 47.02,183.83 47.97,185.38 48.93,187.93 49.88,187.85 50.84,187.69 51.8,189.11 52.75,189.44 53.71,187.8 54.19,187.14 54.66,187.72 55.62,187.94 56.58,186.91 57.53,185.65 58.49,186.22 59.44,187.85 60.4,188.64 61.36,187.98 62.31,186.52 63.17,186.23 63.27,187.36 64.22,188.3 65.18,188.1 66.14,186.89 67.09,186.26 68.05,186.44 69,186.75 69.96,187.76 70.92,188.17 71.87,186.49 72.25,186.17 72.83,187.71 73.78,187.5 74.74,186.36 75.7,185.82 76.65,185.49 77.61,185.34 78.56,184.56 79.52,183.49 80.48,183.34 81.43,184.08 82.01,184.45 82.39,184.6 83.34,183.7 84.3,182.11 85.26,181.82 86.21,182.55 87.17,183.01 88.12,183.77 89.08,184.26 90.04,183.08 90.99,181.5 91.95,181.68 92.9,183.01 93.86,182.69 94.82,181.37 95.77,180.05 96.73,180.82 97.68,181.42 98.64,181.51 99.6,180.45 100.07,179.8 100.55,180.14 101.51,180.54 102.46,180.68 103.42,180.55 104.38,180.09 105.33,179.34 106.29,178.88 107.24,178.17 108.2,178.26 109.16,176.94 110.11,175.85 111.07,175.99 112.02,175.9 112.98,176.05 113.94,178.48 114.89,179.86 115.85,179.5 116.8,179.4 117.76,178.74 118.24,177.77 118.72,177.32 119.67,176 120.63,177.2 121.58,178.17 122.54,178.47 123.5,178.71 124.45,178.17 125.41,176.98 126.36,176.3 127.32,176.51 128.28,176.98 129.23,176.41 130.19,176.18 131.14,176.83 132.1,176.36 132.1,202.64 131.14,203.32 130.19,202.96 129.23,202.2 128.28,199.46 127.32,199.24 126.36,207.59 125.41,203.61 124.45,204.4 123.5,202.87 122.54,205.04 121.58,207.1 120.63,204.77 119.67,203.03 118.72,203.46 118.24,203.49 117.76,204.17 116.8,205.12 115.85,206.51 114.89,202.46 113.94,204.67 112.98,199.93 112.02,201 111.07,213.04 110.11,202.23 109.16,199.9 108.2,204.03 107.24,205.27 106.29,202.78 105.33,202.09 104.38,202.46 103.42,202.64 102.46,203.56 101.51,207.23 100.55,205.69 100.07,203.42 99.6,203.31 98.64,205.76 97.68,219.22 96.73,207.42 95.77,202.29 94.82,201.62 93.86,201.48 92.9,201.22 91.95,208.61 90.99,205.56 90.04,203.5 89.08,203.67 88.12,204.97 87.17,203.61 86.21,204.79 85.26,205.11 84.3,205.01 83.34,206.96 82.39,204.38 82.01,203.95 81.43,203.54 80.48,201.97 79.52,203.45 78.56,205.64 77.61,206.86 76.65,206.95 75.7,217.9 74.74,206.61 73.78,205.02 72.83,204.87 72.25,209.06 71.87,209.07 70.92,208.42 69.96,206.79 69,205.12 68.05,202.96 67.09,201.77 66.14,202.28 65.18,203.23 64.22,205.56 63.27,207.18 63.17,207.74 62.31,203.86 61.36,204.76 60.4,207.41 59.44,209.36 58.49,205.33 57.53,202.64 56.58,208.82 55.62,208.61 54.66,208.77 54.19,207.11 53.71,221.83 52.75,209.19 51.8,209.42 50.84,217.89 49.88,212.04 48.93,218.98 47.97,207.48 47.02,206.63 46.06,205.58 45.1,204.68 44.15,204.19 43.19,204.22 42.24,205.49 41.28,205.55 40.32,205.04 39.37,205.33 38.41,204.88 37.84,204.78 37.46,203.63 36.5,204.83" fill="#ff0000" fill-opacity="0.5"/>
<path d="M37.46 203.63v4.83M43.19 204.22v1.42M47.97 207.48v11.76M49.88 212.04v2.62M53.71 221.83v0.83M54.66 208.77v1.07M55.62 208.61v3.42M68.05 202.96v5.35M73.78 205.02v5M89.08 203.67v10.82M91.95 208.61v1.08M100.07 203.42v2.18M106.29 202.78v1.9M108.2 204.03v0.99M109.16 199.9v4.47M110.11 202.23v1.21M112.02 201v4.82M115.85 206.51v7.95M116.8 205.12v8.15M119.67 203.03v1.1M121.58 207.1v4.56M122.54 205.04v1.19M123.5 202.87v4.84M124.45 204.4v1.73M131.14 203.32v1.28" stroke="#ff0000" stroke-opacity="0.3" stroke-width="0.9" fill="none"/>
<polyline points="36.5,191.58 37.46,188.74 38.41,186.44 39.37,184.24 40.32,183.44 41.28,182.95 42.24,182.33 43.19,181.66 44.15,182.37 45.1,183.12 46.06,182.95 47.02,182.91 47.97,182.46 48.93,182.54 49.88,182.6 50.84,181.9 51.8,181.43 52.75,181.65 53.71,182.22 54.66,182.2 55.62,181.74 56.58,181.04 57.53,180.46 58.49,180.53 59.44,180.87 60.4,181.51 61.36,181.72 62.31,182.13 63.27,183.15 64.22,183.88 65.18,183.92 66.14,183.77 67.09,183.72 68.05,183.95 69,184.18 69.96,183.55 70.92,182.57 71.87,182.49 72.83,182.56 73.78,181.26 74.74,180.3 75.7,180.51 76.65,181.04 77.61,181.38 78.56,181.62 79.52,181.53 80.48,181.31 81.43,181.5 82.39,181.81 83.34,181.99 84.3,182.42 85.26,182.85 86.21,182.96 87.17,182.67 88.12,182.17 89.08,182.47 90.04,181.98 90.99,181.59 91.95,181.66 92.9,180.88 93.86,180.04 94.82,179.59 95.77,179.6 96.73,179.52 97.68,179.49 98.64,179.76 99.6,179.65 100.55,179.14 101.51,178.62 102.46,178.74 103.42,179.27 104.38,179.13 105.33,178.84 106.29,178.97 107.24,178.94 108.2,178.76 109.16,178.94 110.11,179.16 111.07,178.87 112.02,178.28 112.98,178.2 113.94,178.26 114.89,178.08 115.85,178.12 116.8,177.93 117.76,177.16 118.72,176.53 119.67,176.55 120.63,176.65 121.58,176.54 122.54,176.28 123.5,175.54 124.45,174.86 125.41,174.37 126.36,174.8 127.32,175.28 128.28,175.04 129.23,174.83 130.19,175.48 131.14,176.1 132.1,175.98" fill="none" stroke="#0000ff" stroke-width="1.3" stroke-linejoin="round"/>
<polyline points="36.5,199.72 37.46,199.33 38.41,199.98 39.37,200.2 40.32,200.61 41.28,201.2 42.24,200.63 43.19,200.19 44.15,199.55 45.1,198.85 46.06,198.47 47.02,197.59 47.97,197.45 48.93,197.53 49.88,198.11 50.84,198.58 51.8,198.46 52.75,198.54 53.71,198.8 54.66,198.8 55.62,198.51 56.58,198.13 57.53,197.59 58.49,196.49 59.44,195.71 60.4,196.18 61.36,196.01 62.31,196.02 63.27,196.82 64.22,197.51 65.18,197.86 66.14,198.1 67.09,198.29 68.05,198.36 69,198.54 69.96,197.8 70.92,196.69 71.87,195.52 72.83,195.08 73.78,195.05 74.74,194.65 75.7,194.13 76.65,193.64 77.61,193.48 78.56,193.61 79.52,193.46 80.48,194.31 81.43,195.33 82.39,195.61 83.34,195.6 84.3,195.55 85.26,194.98 86.21,194.68 87.17,195.28 88.12,195.47 89.08,195.02 90.04,194.83 90.99,194.2 91.95,193.22 92.9,192.9 93.86,193.1 94.82,193.36 95.77,192.93 96.73,192.32 97.68,192.39 98.64,192.41 99.6,191.69 100.55,191.19 101.51,191.17 102.46,191.09 103.42,191.37 104.38,191.57 105.33,191.17 106.29,190.81 107.24,190.54 108.2,190.54 109.16,191.43 110.11,191.84 111.07,190.74 112.02,189.79 112.98,189.78 113.94,189.67 114.89,189.69 115.85,190.25 116.8,190.47 117.76,190.61 118.72,191 119.67,190.79 120.63,190.53 121.58,190.6 122.54,190.46 123.5,190.45 124.45,190.7 125.41,190.98 126.36,190.97 127.32,190.96 128.28,191.31 129.23,191.55 130.19,191.72 131.14,191.65 132.1,191.33" fill="none" stroke="#ff0000" stroke-width="1.3" stroke-linejoin="round"/>
</g>
<g font-size="9.4" text-anchor="middle"><text transform="translate(36.7,233.7) scale(1,1.03)" >0</text><text transform="translate(84.3,233.7) scale(1,1.03)" >5</text><text transform="translate(132.1,233.7) scale(1,1.03)" >10</text></g>
<text transform="translate(31.3,159.3) scale(1,1.07)" text-anchor="end" font-size="9.3">10</text>
<text transform="translate(35.9,152.6) scale(1,1.15)" text-anchor="end" font-size="6.4">0</text>
<text transform="translate(27.6,186.9) scale(1,1.07)" text-anchor="end" font-size="9.3">10</text>
<text transform="translate(35.9,180.2) scale(1,1.15)" text-anchor="end" font-size="6.4">2</text>
<rect x="28" y="177.8" width="2.7" height="1.1" fill="#000"/>
<text transform="translate(27.6,214.5) scale(1,1.07)" text-anchor="end" font-size="9.3">10</text>
<text transform="translate(35.9,207.8) scale(1,1.15)" text-anchor="end" font-size="6.4">4</text>
<rect x="28" y="205.4" width="2.7" height="1.1" fill="#000"/>
<rect x="150.9" y="129.7" width="96" height="95.6" fill="none" stroke="#737373" stroke-width="1"/>
<path d="M174.9 129.7v2.8M174.9 225.3v-2.8M198.9 129.7v2.8M198.9 225.3v-2.8M222.9 129.7v2.8M222.9 225.3v-2.8M150.9 154.5h3M246.9 154.5h-3M150.9 182.1h3M246.9 182.1h-3M150.9 209.7h3M246.9 209.7h-3" stroke="#737373" stroke-width="1" fill="none"/>
<g clip-path="url(#cB1)">
<polygon points="150.9,168.32 151.86,168.6 152.05,168.62 152.82,164.76 153.78,159.99 154.55,156.12 154.74,155.77 155.7,154.44 156.66,152.9 157.43,152 157.62,152.45 158.58,151.98 159.54,150.79 160.02,150.34 160.5,145.43 160.98,139.96 161.46,144.78 161.94,150.26 162.42,151.13 162.9,151.57 163.38,150.3 164.34,147.4 164.82,145.7 165.3,148.83 165.78,151.88 166.26,152.12 167.22,152.66 167.41,152.97 168.18,153.55 169.14,154.08 170,154.45 170.1,153.85 171.06,152.19 172.02,151.28 172.98,143.24 173.27,140.51 173.94,144.7 174.42,147.95 174.9,148.56 175.19,148.5 175.86,146.7 176.44,145.74 176.82,145.8 177.68,145.9 177.78,146.4 178.74,148.83 178.93,149.1 179.7,151.34 180.28,153.13 180.66,153.38 181.62,153.61 182.58,153.58 182.87,153.58 183.54,152.17 184.5,150.18 185.36,148.28 185.46,148.28 186.42,149.57 187.38,150.7 187.96,151.31 188.34,151.75 189.3,151.88 190.26,151.95 190.55,152.62 191.22,151.8 192.18,149.8 192.47,148.97 193.14,149.49 193.62,150.2 194.1,151.02 194.39,151.26 194.96,151.19 195.06,150.72 196.02,150.05 196.98,150.5 197.94,151.03 198.9,150.64 199.86,150.66 200.82,151.36 201.78,152.42 202.74,151.81 203.7,150.75 204.66,145.6 205.62,153.16 206.1,153.51 206.58,153.42 207.54,153.46 208.5,153.43 208.88,153.07 209.46,151.73 210.42,150.08 211.38,148.96 211.67,149.14 212.34,150.74 212.82,151.14 213.3,150.79 214.26,151.15 215.22,151.34 216.18,151 216.66,150.79 217.14,149.45 218.1,146.61 219.06,149.4 219.54,150.96 220.02,151.29 220.98,151.95 221.94,152.54 222.9,152.65 223.86,152.63 224.82,153.09 225.78,153.69 226.74,153.89 227.7,153.85 228.66,154.02 229.62,154.19 230.58,154.19 231.54,154.34 232.5,154.52 233.46,154.59 234.42,154.56 235.38,154.58 236.34,154.61 237.3,154.62 238.26,154.59 239.22,154.55 240.18,154.54 241.14,154.56 242.1,154.57 243.06,154.57 244.02,154.57 244.98,154.57 245.94,154.58 246.9,154.58 246.9,154.58 245.94,154.62 244.98,154.66 244.02,154.7 243.06,154.74 242.1,154.78 241.14,154.82 240.18,154.85 239.22,154.93 238.26,155.01 237.3,155 236.34,155 235.38,155.05 234.42,155.25 233.46,155.44 232.5,155.57 231.54,155.75 230.58,156.07 229.62,156.34 228.66,156.64 227.7,157.06 226.74,157.4 225.78,157.59 224.82,157.71 223.86,157.68 222.9,157.48 221.94,157.3 220.98,157.77 220.02,158.85 219.54,159.47 219.06,163.35 218.1,170.79 217.14,163.52 216.66,160.06 216.18,160.4 215.22,160.56 214.26,160.52 213.3,160.51 212.82,160.4 212.34,163.5 211.67,167.6 211.38,165.68 210.42,160.18 209.46,160.37 208.88,160.48 208.5,160.3 207.54,160.21 206.58,160 206.1,159.71 205.62,163.8 204.66,171.5 203.7,167.01 202.74,162.36 201.78,161.59 200.82,161.47 199.86,161.88 198.9,161.75 197.94,163.11 196.98,164.37 196.02,165.58 195.06,167.48 194.96,167.91 194.39,166.97 194.1,166.3 193.62,165.55 193.14,167.41 192.47,170.31 192.18,170.81 191.22,170.35 190.55,169.1 190.26,168.67 189.3,168.68 188.34,168.49 187.96,167.91 187.38,167.41 186.42,167.43 185.46,172.29 185.36,172.38 184.5,170.08 183.54,168.07 182.87,167.22 182.58,167.35 181.62,166.38 180.66,165.63 180.28,165.65 179.7,165.82 178.93,165.64 178.74,165.41 177.78,166.26 177.68,166.42 176.82,167.63 176.44,167.97 175.86,167.65 175.19,167.83 174.9,168.07 174.42,168.14 173.94,176.7 173.27,188.24 172.98,183.08 172.02,166.21 171.06,165.16 170.1,164.52 170,165.09 169.14,165.02 168.18,164.47 167.41,164.63 167.22,165.02 166.26,165.61 165.78,165.99 165.3,173.51 164.82,180.94 164.34,177.38 163.38,169.82 162.9,165.81 162.42,165.63 161.94,165.45 161.46,169.39 160.98,173.1 160.5,168.34 160.02,164.02 159.54,164.84 158.58,165.69 157.62,165.93 157.43,165.84 156.66,166.52 155.7,167.43 154.74,168.25 154.55,168.08 153.78,170.92 152.82,174.68 152.05,177.97 151.86,180.3 150.9,189.17" fill="#0000ff" fill-opacity="0.5"/>
<polygon points="150.9,189.4 151.86,190.08 152.82,191.13 153.78,190.59 154.74,190 155.7,190.74 156.66,189.67 157.62,188.75 158.58,189.91 159.54,189.65 160.5,187.29 161.46,181.77 162.42,187.14 163.38,187.89 164.34,188.4 165.3,187.89 166.26,186.42 167.22,186.18 168.18,187.64 169.14,187.87 170.1,186.74 171.06,186.67 172.02,187.49 172.98,186.32 173.94,186.15 174.9,185.83 175.86,185.03 176.82,185.53 177.78,187.19 178.74,186.36 179.7,184.95 180.66,185.31 181.62,185.63 182.58,185.02 183.54,183.74 184.5,183.31 185.46,183.24 186.42,182.49 187.38,183.08 188.34,184.46 189.3,183.97 190.26,182.56 191.22,181.87 192.18,183.27 193.14,183.69 194.1,181.93 195.06,181 196.02,182.86 196.98,185.22 197.94,181.08 198.9,182.36 199.86,180.96 200.82,179.86 201.78,179.85 202.74,181.05 203.7,181.44 204.66,180.72 205.62,179.69 206.58,179.57 207.54,179.9 208.5,178.68 209.46,177.34 210.42,177.6 211.38,177.26 212.34,177.88 213.3,180.7 214.26,174.91 215.22,173.44 216.18,171.4 217.14,175.78 218.1,175.45 219.06,175.37 220.02,175.13 220.98,174.33 221.94,174.15 222.9,175.07 223.86,175.88 224.82,175.93 225.78,179.01 226.74,175.07 227.7,175.4 228.66,175.96 229.62,173.79 230.58,173.01 231.54,173.21 232.5,170.8 233.46,169.71 234.42,172.02 235.38,173.59 236.34,173.38 237.3,172.93 238.26,171.92 239.22,170.77 240.18,170.62 241.14,169.28 242.1,168.34 243.06,168.59 244.02,168.28 244.98,168.58 245.94,169.18 246.9,174.16 246.9,195.98 245.94,197.4 244.98,198.82 244.02,199.56 243.06,200.08 242.1,200.5 241.14,201.55 240.18,201.68 239.22,201.89 238.26,204.59 237.3,203.68 236.34,203.06 235.38,202.1 234.42,203.87 233.46,205.37 232.5,204.61 231.54,203.32 230.58,203.76 229.62,204.29 228.66,202.99 227.7,198.76 226.74,203.55 225.78,205.21 224.82,211.82 223.86,208.7 222.9,208.67 221.94,208.37 220.98,207.16 220.02,206.63 219.06,207.28 218.1,206.47 217.14,202.76 216.18,205.84 215.22,207.6 214.26,209.23 213.3,211.71 212.34,216.42 211.38,212.16 210.42,210.42 209.46,208.52 208.5,212.29 207.54,209.74 206.58,212.31 205.62,210.93 204.66,208.42 203.7,208.89 202.74,211.41 201.78,211.35 200.82,209.95 199.86,209.27 198.9,208.71 197.94,208.88 196.98,209.37 196.02,208.62 195.06,208.35 194.1,209.98 193.14,209.58 192.18,208.25 191.22,207.48 190.26,208.48 189.3,209.12 188.34,208.68 187.38,207.38 186.42,206.44 185.46,207.26 184.5,208.57 183.54,208.3 182.58,207.42 181.62,207.47 180.66,208.22 179.7,207.4 178.74,206.69 177.78,208.13 176.82,209.38 175.86,209.67 174.9,209.34 173.94,208.31 172.98,206.97 172.02,205.88 171.06,205 170.1,210.46 169.14,211.1 168.18,210.51 167.22,210.38 166.26,210.76 165.3,211.5 164.34,211.66 163.38,210.77 162.42,209.9 161.46,210.68 160.5,212.89 159.54,212.59 158.58,212.27 157.62,215.55 156.66,214.47 155.7,216.88 154.74,217.69 153.78,218.03 152.82,215.06 151.86,212.62 150.9,212.17" fill="#ff0000" fill-opacity="0.5"/>
<polyline points="150.9,181.24 151.86,169.98 152.82,166.56 153.78,164.48 154.74,163.12 155.7,162.23 156.66,161.26 157.62,160.48 158.58,159.84 159.54,159.43 160.5,160.09 161.46,160.63 162.42,160.63 163.38,160.46 164.34,160.27 165.3,160.74 166.26,160.77 167.22,160.57 168.18,160.94 169.14,161.33 170.1,161.5 171.06,162.34 172.02,163.56 172.98,164.15 173.94,163.2 174.9,162.27 175.86,161.52 176.82,161.36 177.78,161.01 178.74,160.09 179.7,159.79 180.66,160.34 181.62,160.23 182.58,159.6 183.54,159.07 184.5,158.8 185.46,158.67 186.42,158.55 187.38,158.84 188.34,158.9 189.3,158.73 190.26,159.08 191.22,159.15 192.18,158.68 193.14,158.2 194.1,157.96 195.06,157.63 196.02,157.43 196.98,157.97 197.94,158.06 198.9,157.58 199.86,157.61 200.82,157.67 201.78,157.68 202.74,157.87 203.7,157.64 204.66,157.22 205.62,157.06 206.58,156.32 207.54,155.99 208.5,156.74 209.46,156.8 210.42,156.73 211.38,157.25 212.34,157.17 213.3,156.91 214.26,157.16 215.22,157.38 216.18,156.94 217.14,156.64 218.1,157.1 219.06,156.97 220.02,156.76 220.98,157.37 221.94,157.56 222.9,156.81 223.86,156.32 224.82,155.88 225.78,155.67 226.74,155.96 227.7,156.11 228.66,155.91 229.62,155.73 230.58,155.73 231.54,155.58 232.5,155.4 233.46,155.33 234.42,155.33 235.38,155.31 236.34,155.26 237.3,155.2 238.26,155.14 239.22,155.08 240.18,155.04 241.14,155.02 242.1,155 243.06,154.96 244.02,154.9 244.98,154.84 245.94,154.83 246.9,154.83" fill="none" stroke="#0000ff" stroke-width="1.3" stroke-linejoin="round"/>
<polyline points="150.9,200.09 151.86,200.26 152.82,200.04 153.78,199.45 154.74,198.83 155.7,198.65 156.66,198.54 157.62,198.27 158.58,198.37 159.54,198.31 160.5,198.05 161.46,197.66 162.42,197.41 163.38,197.53 164.34,197.44 165.3,197.11 166.26,197.16 167.22,197.32 168.18,197.06 169.14,196.62 170.1,196.41 171.06,196.26 172.02,196.43 172.98,196.97 173.94,196.79 174.9,196.08 175.86,195.9 176.82,195.82 177.78,195.62 178.74,195.54 179.7,195.69 180.66,195.89 181.62,196.07 182.58,196.04 183.54,195.69 184.5,196.01 185.46,196.26 186.42,195.61 187.38,195.33 188.34,195.57 189.3,195.83 190.26,196.24 191.22,196.28 192.18,196.08 193.14,196.22 194.1,196.34 195.06,196.27 196.02,196.31 196.98,196.18 197.94,196.12 198.9,196.65 199.86,197.04 200.82,196.77 201.78,196.41 202.74,196.29 203.7,195.96 204.66,195.89 205.62,196.14 206.58,196.67 207.54,197.11 208.5,196.19 209.46,195.18 210.42,194.44 211.38,193.79 212.34,193.44 213.3,193.4 214.26,193.08 215.22,192.75 216.18,192.65 217.14,192.08 218.1,191.54 219.06,191.04 220.02,190.18 220.98,189.58 221.94,189.67 222.9,189.42 223.86,188.94 224.82,188.84 225.78,188.95 226.74,188.71 227.7,187.88 228.66,187.61 229.62,188.03 230.58,188.01 231.54,187.51 232.5,186.67 233.46,186.26 234.42,186.74 235.38,186.58 236.34,185.78 237.3,185.64 238.26,186.03 239.22,186.14 240.18,185.51 241.14,185.08 242.1,184.82 243.06,184.85 244.02,185.03 244.98,185.3 245.94,185.76 246.9,185.93" fill="none" stroke="#ff0000" stroke-width="1.3" stroke-linejoin="round"/>
</g>
<g font-size="9.4" text-anchor="middle"><text transform="translate(151.1,233.7) scale(1,1.03)" >0</text><text transform="translate(198.9,233.7) scale(1,1.03)" >5</text><text transform="translate(246.9,233.7) scale(1,1.03)" >10</text></g>
<rect x="266" y="129.7" width="95.5" height="95.6" fill="none" stroke="#737373" stroke-width="1"/>
<path d="M289.88 129.7v2.8M289.88 225.3v-2.8M313.75 129.7v2.8M313.75 225.3v-2.8M337.62 129.7v2.8M337.62 225.3v-2.8M266 154.5h3M361.5 154.5h-3M266 182.1h3M361.5 182.1h-3M266 209.7h3M361.5 209.7h-3" stroke="#737373" stroke-width="1" fill="none"/>
<g clip-path="url(#cB2)">
<polygon points="266,154.9 266.95,154.71 267.91,154.08 268.39,151.07 268.87,153.51 269.82,155.57 270.3,157.33 270.77,154.74 271.16,149.7 271.73,146.83 272.69,149.77 273.64,148.78 274.6,148.82 275.55,149.89 276.22,150.07 276.5,150.12 277.46,150.61 278.42,150.77 278.8,149.55 279.37,147.88 280.32,147.22 281.28,142.85 282.24,145.4 283.19,145.59 283.95,145.13 284.14,144.16 285.1,147.68 286.06,147.23 287.01,146.97 287.96,146.11 288.44,140.65 288.92,144.05 289.88,146.25 290.83,144.16 291.59,147.03 291.79,148.3 292.74,148.57 293.69,149.36 294.17,150.37 294.65,149.61 295.61,147.77 296.56,146.55 297.51,149.26 297.99,150.22 298.47,151.73 299.43,153.54 300.38,154.42 300.57,154.46 300.86,154.37 301.33,154.26 302.29,154.31 303.25,154.31 304.2,154.42 305.15,154.41 306.11,154.5 306.11,154.5 305.15,154.56 304.2,154.42 303.25,154.53 302.29,154.48 301.33,154.65 300.86,154.81 300.57,155.33 300.38,155.68 299.43,156 298.47,159.71 297.99,161.31 297.51,161.29 296.56,163.3 295.61,165.32 294.65,162.67 294.17,165.76 293.69,166.25 292.74,165.69 291.79,163.91 291.59,166.81 290.83,167.07 289.88,164.69 288.92,165.11 288.44,169.81 287.96,170.24 287.01,171.71 286.06,173.25 285.1,175.24 284.14,176.11 283.95,174.69 283.19,174.27 282.24,175.62 281.28,177.3 280.32,178.26 279.37,178.56 278.8,176.28 278.42,171.6 277.46,174.29 276.5,177.86 276.22,179.2 275.55,173.7 274.6,182.29 273.64,183.55 272.69,182.67 271.73,184.47 271.16,186.26 270.77,186.15 270.3,185.71 269.82,182.61 268.87,187.95 268.39,188.79 267.91,189.15 266.95,187.35 266,190.73" fill="#0000ff" fill-opacity="0.5"/>
<polygon points="266,191.79 266.95,189.79 267.91,188.12 268.39,186.84 268.87,186.76 269.82,187.14 270.77,186.09 271.73,183.06 272.69,185.05 273.64,185.6 274.6,179.35 275.55,180.34 276.5,185.18 277.46,184.47 278.42,183.27 279.37,182.76 280.32,183.79 281.28,183.52 282.24,182.66 283.19,182.73 284.14,182.82 285.1,182.54 286.06,182.96 287.01,183.5 287.96,182.78 288.92,181.8 289.88,182.37 290.83,182.76 291.79,181.88 292.74,181.33 293.69,180.03 294.65,178.75 295.61,179 296.56,177.63 297.51,179.34 298.47,178.87 299.43,178.36 300.38,177.94 301.33,177.77 302.29,177.13 303.25,176.77 304.2,178.09 305.15,178.87 306.11,178.78 307.06,178.54 308.02,177.69 308.98,175.16 309.93,171.14 310.88,175.85 311.84,177.29 312.8,177.85 313.75,177.93 314.7,176.67 315.66,175.92 316.62,176.81 317.57,177.48 318.52,177.33 319.48,176.04 320.44,175.3 321.39,175.25 322.35,174.34 323.3,174.04 324.25,175.52 325.21,176.54 326.17,176.01 327.12,175.08 328.07,174.53 329.03,173.68 329.99,173.65 330.94,174.05 331.89,173.46 332.85,174.68 333.81,176.72 334.76,176.42 335.72,175.12 336.67,173.85 337.62,173.26 338.58,173.46 339.53,174.26 340.49,173.12 341.44,172.16 342.4,172.47 343.36,172.81 344.31,172.71 345.26,171.5 346.22,170.59 347.18,170.1 348.13,172.77 349.08,172.81 350.04,171.81 351,171.38 351.95,170.87 352.9,170.25 353.86,170.26 354.81,170.08 355.77,169.92 356.73,169.88 357.68,169.48 358.63,169.3 359.59,169.3 360.55,167.2 361.5,167.73 361.5,203.68 360.55,203.73 359.59,203.25 358.63,203.66 357.68,204.6 356.73,204.47 355.77,205.29 354.81,206.89 353.86,205.59 352.9,204.58 351.95,208.61 351,205.57 350.04,204.82 349.08,204.51 348.13,203.75 347.18,202.78 346.22,202.36 345.26,203.46 344.31,204.11 343.36,202.48 342.4,200.93 341.44,202.31 340.49,204.39 339.53,204.7 338.58,204.69 337.62,205.09 336.67,205.49 335.72,205.8 334.76,206.78 333.81,210.63 332.85,207.33 331.89,206.61 330.94,205.63 329.99,204.02 329.03,203.58 328.07,204.15 327.12,204.46 326.17,205.31 325.21,204.92 324.25,204.41 323.3,203.4 322.35,203.29 321.39,204.54 320.44,203.62 319.48,203.07 318.52,203.11 317.57,209.25 316.62,205.39 315.66,201.99 314.7,202.13 313.75,205.15 312.8,205.32 311.84,204.14 310.88,203.75 309.93,203.44 308.98,203.92 308.02,209.34 307.06,205.85 306.11,205.45 305.15,205.16 304.2,208.14 303.25,204.14 302.29,205.9 301.33,206.64 300.38,206.61 299.43,207.26 298.47,208.63 297.51,212.09 296.56,209.56 295.61,208.72 294.65,207.56 293.69,207.08 292.74,210.33 291.79,206.76 290.83,207.27 289.88,207.48 288.92,209.03 287.96,213.59 287.01,207.35 286.06,204.98 285.1,205.43 284.14,207.72 283.19,207.57 282.24,206.64 281.28,208.52 280.32,209.85 279.37,209.51 278.42,209.38 277.46,208.41 276.5,207.67 275.55,208.39 274.6,208.76 273.64,208.18 272.69,209.39 271.73,212.1 270.77,213.19 269.82,213.61 268.87,214.21 268.39,214.01 267.91,214.44 266.95,216.28 266,217.35" fill="#ff0000" fill-opacity="0.5"/>
<polyline points="266,170.96 266.95,171.18 267.91,171.03 268.87,171.21 269.82,171.17 270.77,169.75 271.73,168.69 272.69,167.69 273.64,166.87 274.6,166.58 275.55,166.25 276.5,165.32 277.46,164.5 278.42,163.93 279.37,163.07 280.32,161.85 281.28,161.04 282.24,160.88 283.19,160.95 284.14,161.17 285.1,160.99 286.06,160.47 287.01,159.87 287.97,158.97 288.92,158.04 289.88,157.74 290.83,158.04 291.79,157.81 292.74,156.95 293.69,156.12 294.65,155.99 295.61,156.21 296.56,156.22 297.51,156.07 298.47,155.51 299.43,154.86 300.38,154.78 301.33,154.69 302.29,154.63 303.25,154.59 304.2,154.54 305.16,154.52 306.11,154.5" fill="none" stroke="#0000ff" stroke-width="1.3" stroke-linejoin="round"/>
<line x1="306.11" y1="154.5" x2="361.5" y2="154.5" stroke="#6060ff" stroke-width="1"/>
<polyline points="266,206.94 266.95,200.61 267.91,198.8 268.87,197.54 269.82,197.01 270.77,197.26 271.73,197.43 272.69,197.05 273.64,196.91 274.6,196.87 275.55,196.45 276.5,195.61 277.46,194.87 278.42,194.69 279.37,194.94 280.32,195.42 281.28,195.47 282.24,195.06 283.19,194.35 284.14,193.57 285.1,193.46 286.06,193.68 287.01,194.12 287.97,194.48 288.92,194.3 289.88,194.09 290.83,194.15 291.79,193.91 292.74,193.44 293.69,193.31 294.65,192.68 295.61,192.18 296.56,192.62 297.51,192.83 298.47,192.4 299.43,192.07 300.38,192.07 301.33,192.36 302.29,192.68 303.25,192.28 304.2,191.62 305.16,191.45 306.11,191.83 307.06,191.94 308.02,191.27 308.98,190.63 309.93,190.41 310.88,191.06 311.84,191.44 312.8,190.82 313.75,190.48 314.7,190.42 315.66,190.28 316.62,190.11 317.57,189.87 318.52,189.76 319.48,190.09 320.44,190.42 321.39,189.85 322.35,189.28 323.3,189.7 324.25,190.04 325.21,189.61 326.17,188.89 327.12,188.76 328.07,189.37 329.03,189.4 329.99,188.73 330.94,188.61 331.89,188.65 332.85,188.42 333.81,188.29 334.76,188.36 335.72,188.25 336.67,187.79 337.62,187.74 338.58,187.8 339.53,187.58 340.49,186.89 341.44,186.72 342.4,187.77 343.36,188.12 344.31,187.66 345.26,187.37 346.22,187.18 347.18,186.96 348.13,187.11 349.09,187.16 350.04,186.49 351,186.4 351.95,186.8 352.9,186.52 353.86,186.22 354.81,186.3 355.77,186.47 356.73,186.48 357.68,186.04 358.63,185.5 359.59,185.45 360.55,186.09 361.5,186.21" fill="none" stroke="#ff0000" stroke-width="1.3" stroke-linejoin="round"/>
</g>
<g font-size="9.4" text-anchor="middle"><text transform="translate(266.2,233.7) scale(1,1.03)" >0</text><text transform="translate(313.75,233.7) scale(1,1.03)" >5</text><text transform="translate(361.5,233.7) scale(1,1.03)" >10</text></g>
<rect x="36.5" y="285.3" width="95.6" height="95.2" fill="none" stroke="#737373" stroke-width="1"/>
<path d="M60.4 285.3v2.8M60.4 380.5v-2.8M84.3 285.3v2.8M84.3 380.5v-2.8M108.2 285.3v2.8M108.2 380.5v-2.8M36.5 300.8h3M132.1 300.8h-3M36.5 329.9h3M132.1 329.9h-3M36.5 359h3M132.1 359h-3" stroke="#737373" stroke-width="1" fill="none"/>
<g clip-path="url(#cC0)">
<polygon points="36.5,340.05 37.46,338.01 38.41,336.34 38.6,336.06 38.89,334.89 39.37,334 40.32,332.71 41.09,331.36 41.28,330.2 42.24,327.68 43.19,326.11 43.67,325.31 44.15,325.11 45.1,324.87 46.06,323.95 47.02,322.46 47.97,321.26 48.83,320.29 48.93,320.51 49.88,320.54 50.84,319.56 51.8,317.75 52.66,316.83 52.75,316.29 53.71,315.06 54.66,315.08 55.62,314.85 56.48,313.57 56.58,312.68 57.53,311.51 58.49,310.72 59.44,310.74 60.4,310.29 61.36,309 61.64,309.21 62.31,309.24 63.27,308.15 64.22,307.6 65.18,307.36 66.14,306.17 67.09,304.52 68.05,304.17 69,304.34 69.96,302.93 70.92,301.1 71.87,300.22 72.83,300.69 73.78,301.59 74.45,301.55 74.74,300.81 75.7,299.93 76.65,299.14 77.61,297.57 78.56,296.11 79.52,295.13 80.48,293.94 80.76,293.99 81.43,294.25 82.39,293.51 83.34,292.52 84.01,292.47 84.3,292.82 85.26,292.09 86.21,291.22 87.17,290.82 88.12,290.52 89.08,290.41 90.04,292.33 90.99,293.84 91.66,294.54 91.95,294.4 92.9,293.92 93.86,293.03 94.82,292.36 95.77,292.29 96.73,292.13 96.82,292.38 97.68,292.77 98.64,292.74 99.6,292.22 100.55,291.13 101.51,290.43 102.46,290.83 103.23,291.38 103.42,292.01 104.38,292.81 105.33,293.24 106.29,293.45 107.24,292.92 108.2,292.95 109.16,293.68 109.63,293.17 110.11,292.64 111.07,293.34 112.02,294.35 112.98,294.72 113.94,294.58 114.89,294.51 115.85,293.79 116.04,292.77 116.8,292.51 117.76,292.83 118.72,293.04 119.67,292.65 120.63,292.73 121.58,293.82 122.44,294.92 122.54,294.94 123.5,294.35 124.45,294.17 125.41,294.79 126.36,294.98 127.32,293.11 128.28,291.56 129.23,291.52 130.19,292.01 131.14,292.99 132.1,293.55 132.1,329.84 131.14,330.81 130.19,331.05 129.23,331.46 128.28,331.68 127.32,331.25 126.36,331.22 125.41,331.28 124.45,331.75 123.5,332.6 122.54,333.14 122.44,332.52 121.58,332.71 120.63,333.91 119.67,334.02 118.72,334.35 117.76,335.6 116.8,336.31 116.04,334.68 115.85,334.17 114.89,334.16 113.94,334.37 112.98,334.52 112.02,334.89 111.07,334.91 110.11,334.24 109.63,333.98 109.16,334.1 108.2,334.1 107.24,333.91 106.29,333.24 105.33,333.01 104.38,333.46 103.42,333.08 103.23,332.58 102.46,333.78 101.51,335.06 100.55,334.57 99.6,333.34 98.64,332.46 97.68,332.36 96.82,333.21 96.73,334.03 95.77,334.84 94.82,335.68 93.86,336.33 92.9,337.43 91.95,335.55 91.66,334.85 90.99,334.75 90.04,334.53 89.08,334.79 88.12,334.79 87.17,334.7 86.21,335.16 85.26,335.55 84.3,334.85 84.01,334.03 83.34,334.16 82.39,334.98 81.43,335.86 80.76,336.34 80.48,336.11 79.52,335.91 78.56,336.61 77.61,337.78 76.65,338.32 75.7,338.7 74.74,339.17 74.45,339.09 73.78,338.97 72.83,338.59 71.87,338.25 70.92,338.63 69.96,340.82 69,338.36 68.05,338.61 67.09,337.95 66.14,337.9 65.18,338.41 64.22,337.66 63.27,337.39 62.31,338.27 61.64,338.68 61.36,339.13 60.4,339.7 59.44,339.3 58.49,338.13 57.53,338.33 56.58,339.76 56.48,339.86 55.62,339.08 54.66,339.4 53.71,340.05 52.75,339.5 52.66,339.07 51.8,339.2 50.84,338.82 49.88,338.02 48.93,337.68 48.83,337.3 47.97,337.03 47.02,337.76 46.06,338 45.1,337.91 44.15,337.69 43.67,336.75 43.19,335.72 42.24,336.11 41.28,337.03 41.09,337.51 40.32,338.83 39.37,340.17 38.89,340.51 38.6,341.57 38.41,342.36 37.46,346.5 36.5,364.05" fill="#0000ff" fill-opacity="0.5"/>
<polygon points="36.5,340.04 37.46,338.03 38.41,336.67 38.6,335.91 38.89,335 39.37,334.88 40.32,332.75 41.09,330.33 41.28,329.89 42.24,328.29 43.19,327.94 43.67,329.16 44.15,328.74 45.1,326.29 46.06,324.14 47.02,322.82 47.97,322.29 48.83,322.4 48.93,322.78 49.88,321.44 50.84,320.11 51.8,317.85 52.66,315.89 52.75,316.83 53.71,317.26 54.66,316.85 55.62,315.94 56.48,314.68 56.58,314.49 57.53,314.22 58.49,313.84 59.44,313.46 60.4,312.65 61.36,311.09 61.64,310.3 62.31,309.94 63.27,309.34 64.22,308.29 65.18,307.62 66.14,307.68 67.09,307.4 68.05,306.54 69,305.79 69.96,304.74 70.92,303.56 71.87,302.93 72.83,302.16 73.78,301.17 74.45,300.72 74.74,300.86 75.7,301.15 76.65,300.29 77.61,298.53 78.56,297.49 79.52,297.07 80.48,297.07 80.76,296.85 81.43,295.63 82.39,294.79 83.34,294.62 84.01,294.29 84.3,293.92 85.26,293.34 86.21,292.75 87.17,292.8 88.12,293.02 89.08,292.95 90.04,293.9 90.99,295.2 91.66,295.21 91.95,294.69 92.9,294.55 93.86,294.78 94.82,294.68 95.77,294.66 96.73,294.68 97.68,294.67 98.64,294.37 99.6,293.2 100.55,292.82 101.51,293.14 102.46,293.05 103.23,293.55 103.42,294.03 104.38,293.55 105.33,293.22 106.29,293.12 107.24,292.69 108.2,292.93 109.16,294.49 109.63,295.43 110.11,295.28 111.07,294.91 112.02,294.19 112.98,294.18 113.94,294.83 114.89,295.2 115.85,295.26 116.8,295.66 117.76,295.65 118.72,294.8 119.67,294.83 120.63,295.16 121.58,295.05 122.44,294.79 122.54,294.08 123.5,293.99 124.45,294.05 125.41,294.38 126.36,295.96 127.32,296.61 128.28,295.94 129.23,295.43 130.19,294.9 131.14,294.14 132.1,293.2 132.1,327.43 131.14,328.11 130.19,328.42 129.23,328.59 128.28,329.24 127.32,329.38 126.36,329.66 125.41,330.5 124.45,330.65 123.5,330.38 122.54,330.46 122.44,330.61 121.58,330.59 120.63,330.94 119.67,331.83 118.72,331.69 117.76,330.84 116.8,330.83 115.85,331.79 114.89,332.29 113.94,331.34 112.98,330.68 112.02,330.9 111.07,330.72 110.11,330.79 109.63,331.15 109.16,331.81 108.2,332.92 107.24,333.17 106.29,332.9 105.33,332.76 104.38,332.53 103.42,332.05 103.23,332.09 102.46,332.48 101.51,332.58 100.55,332.39 99.6,331.93 98.64,332.24 97.68,332.47 96.73,332.32 95.77,332.51 94.82,331.96 93.86,331.74 92.9,333.24 91.95,333.87 91.66,332.97 90.99,332.72 90.04,334.33 89.08,337.71 88.12,333.97 87.17,331.88 86.21,331.57 85.26,332.76 84.3,333.31 84.01,332.61 83.34,332.85 82.39,334.35 81.43,333.45 80.76,334.06 80.48,333.9 79.52,333.79 78.56,335 77.61,336.61 76.65,338.81 75.7,336.99 74.74,336.88 74.45,337.83 73.78,340.25 72.83,337.27 71.87,337.54 70.92,336.91 69.96,336.34 69,336.05 68.05,336.07 67.09,336.44 66.14,336.55 65.18,335.93 64.22,335.78 63.27,336.9 62.31,337.53 61.64,337.71 61.36,338.59 60.4,339.36 59.44,339.57 58.49,339.25 57.53,338.95 56.58,339.58 56.48,339.77 55.62,339.75 54.66,340.18 53.71,340.67 52.75,340.94 52.66,340.29 51.8,339.37 50.84,339.17 49.88,339.91 48.93,340.8 48.83,341.36 47.97,341.63 47.02,341.17 46.06,341.85 45.1,343.46 44.15,344.56 43.67,344.62 43.19,343.79 42.24,343.52 41.28,342.74 41.09,341.89 40.32,342.08 39.37,341.2 38.89,340.11 38.6,340.22 38.41,340.62 37.46,340.57 36.5,340.04" fill="#ff0000" fill-opacity="0.5"/>
<polyline points="36.5,364.92 37.46,344.67 38.41,339.66 39.37,337.29 40.32,335.79 41.28,334.13 42.24,333.22 43.19,332.96 44.15,332.51 45.1,331.93 46.06,331.2 47.02,330.61 47.97,330.28 48.93,330.01 49.88,329.6 50.84,328.96 51.8,328.1 52.75,327.28 53.71,326.73 54.66,326.12 55.62,325.42 56.58,324.92 57.53,324.64 58.49,324.57 59.44,324.27 60.4,323.84 61.36,323.63 62.31,323.24 63.27,322.81 64.22,322.53 65.18,322.02 66.14,321.37 67.09,320.85 68.05,320.56 69,320.51 69.96,320.36 70.92,320.03 71.87,319.45 72.83,319.12 73.78,319.2 74.74,318.81 75.7,318.2 76.65,317.91 77.61,317.64 78.56,317.42 79.52,316.95 80.48,316.28 81.43,315.87 82.39,315.26 83.34,314.69 84.3,314.77 85.26,315.04 86.21,314.8 87.17,314.54 88.12,314.82 89.08,314.92 90.04,314.93 90.99,315.32 91.95,315.12 92.9,314.34 93.86,314 94.82,314.07 95.77,313.99 96.73,313.44 97.68,313.38 98.64,313.57 99.6,313.58 100.55,313.73 101.51,313.79 102.46,313.6 103.42,313.51 104.38,313.64 105.33,314.01 106.29,314.31 107.24,314.2 108.2,314.23 109.16,314.67 110.11,314.74 111.07,314.52 112.02,314.44 112.98,314.39 113.94,314.3 114.89,313.91 115.85,313.51 116.8,313.47 117.76,313.54 118.72,313.45 119.67,313.24 120.63,313.03 121.58,312.87 122.54,313.07 123.5,313.15 124.45,312.69 125.41,312.14 126.36,311.87 127.32,311.7 128.28,311.79 129.23,312.01 130.19,312.25 131.14,312.21 132.1,312.4" fill="none" stroke="#0000ff" stroke-width="1.1" stroke-linejoin="round"/>
<polyline points="36.5,338.76 37.46,336.37 38.41,336.78 39.37,337.13 40.32,337.63 41.28,338.26 42.24,338.96 43.19,339.56 44.15,338.78 45.1,337.07 46.06,335.81 47.02,334.44 47.97,332.86 48.93,331.2 49.88,330.4 50.84,329.58 51.8,328.96 52.75,328.5 53.71,328.08 54.66,327.88 55.62,327.52 56.58,326.92 57.53,326.34 58.49,325.6 59.44,325.18 60.4,324.96 61.36,324.38 62.31,323.77 63.27,323.2 64.22,322.86 65.18,322.4 66.14,321.54 67.09,320.98 68.05,320.77 69,320.65 69.96,320.38 70.92,319.96 71.87,319.54 72.83,319.18 73.78,318.99 74.74,318.85 75.7,318.37 76.65,317.77 77.61,317.35 78.56,316.95 79.52,316.63 80.48,316.54 81.43,316.21 82.39,315.57 83.34,315.19 84.3,315.15 85.26,315.25 86.21,315.1 87.17,314.96 88.12,314.86 89.08,314.84 90.04,315.3 90.99,315.91 91.95,315.69 92.9,314.98 93.86,314.38 94.82,313.73 95.77,313.5 96.73,313.5 97.68,313.67 98.64,313.78 99.6,313.8 100.55,313.84 101.51,313.92 102.46,314.02 103.42,314.18 104.38,314.22 105.33,314.08 106.29,314.01 107.24,314.09 108.2,314.3 109.16,314.5 110.11,314.25 111.07,313.81 112.02,313.76 112.98,313.83 113.94,313.74 114.89,313.61 115.85,313.65 116.8,313.82 117.76,313.89 118.72,313.64 119.67,313.09 120.63,312.8 121.58,312.97 122.54,313.29 123.5,313.13 124.45,312.65 125.41,312.42 126.36,312.5 127.32,312.62 128.28,312.6 129.23,312.44 130.19,312.53 131.14,312.75 132.1,313.21" fill="none" stroke="#ff0000" stroke-width="1.1" stroke-linejoin="round"/>
</g>
<g font-size="9.4" text-anchor="middle"><text transform="translate(36.7,388.9) scale(1,1.03)" >0</text><text transform="translate(84.3,388.9) scale(1,1.03)" >5</text><text transform="translate(132.1,388.9) scale(1,1.03)" >10</text></g>
<text transform="translate(31.3,305.6) scale(1,1.07)" text-anchor="end" font-size="9.3">10</text>
<text transform="translate(35.9,298.9) scale(1,1.15)" text-anchor="end" font-size="6.4">0</text>
<text transform="translate(27.6,334.7) scale(1,1.07)" text-anchor="end" font-size="9.3">10</text>
<text transform="translate(35.9,328) scale(1,1.15)" text-anchor="end" font-size="6.4">3</text>
<rect x="28" y="325.6" width="2.7" height="1.1" fill="#000"/>
<text transform="translate(27.6,363.8) scale(1,1.07)" text-anchor="end" font-size="9.3">10</text>
<text transform="translate(35.9,357.1) scale(1,1.15)" text-anchor="end" font-size="6.4">6</text>
<rect x="28" y="354.7" width="2.7" height="1.1" fill="#000"/>
<rect x="150.9" y="285.3" width="96" height="95.2" fill="none" stroke="#737373" stroke-width="1"/>
<path d="M174.9 285.3v2.8M174.9 380.5v-2.8M198.9 285.3v2.8M198.9 380.5v-2.8M222.9 285.3v2.8M222.9 380.5v-2.8M150.9 300.8h3M246.9 300.8h-3M150.9 329.9h3M246.9 329.9h-3M150.9 359h3M246.9 359h-3" stroke="#737373" stroke-width="1" fill="none"/>
<g clip-path="url(#cC1)">
<polygon points="150.9,337.87 151.86,335.23 152.82,333.07 153.78,331.08 154.74,328.78 154.84,329.25 155.7,328.53 156.66,327.44 157.62,326.78 158.58,326.1 158.68,325.81 159.54,323.8 160.5,322.15 161.46,321.84 162.42,320.87 163.38,318.77 163.76,317.7 164.34,316.79 165.3,316.08 166.26,315.79 167.22,315.27 167.6,315.27 168.18,314.82 169.14,313.4 170.1,311.72 171.06,310.09 171.44,309.66 172.02,309.33 172.98,307.9 173.94,306.91 174.9,306.33 175.86,305.25 176.63,304.47 176.82,304.13 177.78,304.63 178.74,305.05 179.7,303.34 180.66,302.15 181.62,301.06 182.58,299.43 182.96,299.36 183.54,299.82 184.5,299.39 185.46,299.21 186.42,298.82 187.38,296.77 188.34,295.54 189.3,296.37 190.26,296.74 191.22,296.12 192.18,295.76 193.14,295.1 194.1,294.48 194.58,294 195.06,294.59 196.02,295.45 196.98,295.44 197.94,295.29 198.9,295.47 199.86,295.28 200.82,295.02 201.78,294.87 202.74,294.96 203.7,295.05 204.66,294.35 205.43,293.32 205.62,293.18 206.58,294.43 207.54,295.99 208.5,296.98 209.46,296.54 210.42,296.63 211.38,297.24 211.76,296.92 212.34,296.92 213.3,296.31 214.26,295.35 215.22,295.95 216.18,297.2 217.14,297.67 218.1,297.37 219.06,297.39 220.02,298 220.98,298.53 221.94,299.1 222.9,299.93 223.86,299.65 224.63,298.61 224.82,298.16 225.78,298.46 226.74,299.32 227.7,300.36 228.66,300.6 229.62,299.81 230.58,298.92 230.96,298.31 231.54,298.93 232.5,300.28 233.46,300.21 234.42,300.39 235.38,301.17 236.34,300.78 237.3,300.73 238.26,300.54 239.22,299.54 240.18,300.49 241.14,302.42 242.1,301.43 243.06,299.68 244.02,299.94 244.98,300.81 245.94,301.15 246.9,300.65 246.9,317.86 245.94,318.03 244.98,317.21 244.02,316.22 243.06,316.59 242.1,316.46 241.14,315.51 240.18,315.95 239.22,316.23 238.26,316.16 237.3,316.86 236.34,317.81 235.38,317.86 234.42,317.12 233.46,317.41 232.5,318.15 231.54,318.34 230.96,318.01 230.58,317.91 229.62,318.3 228.66,318.73 227.7,318.17 226.74,317.11 225.78,317.67 224.82,318.31 224.63,318.33 223.86,318.57 222.9,318.7 221.94,318.99 220.98,318.78 220.02,318.44 219.06,319.33 218.1,320.03 217.14,319.38 216.18,319.33 215.22,319.78 214.26,318.93 213.3,317.61 212.34,317.74 211.76,318.57 211.38,318.53 210.42,318.53 209.46,319.05 208.5,319.7 207.54,320.47 206.58,320.9 205.62,320.83 205.43,320.31 204.66,320.2 203.7,321.32 202.74,325.3 201.78,322.9 200.82,322.65 199.86,323.19 198.9,324.07 197.94,324.72 196.98,325.19 196.02,326.34 195.06,326.79 194.58,326.68 194.1,327.41 193.14,328.93 192.18,330.86 191.22,331.77 190.26,332.01 189.3,333.49 188.34,334.47 187.38,334.15 186.42,332.94 185.46,333.09 184.5,334.88 183.54,334.57 182.96,333.6 182.58,334.29 181.62,334.93 180.66,335.75 179.7,336.53 178.74,336.05 177.78,335.35 176.82,335.34 176.63,335.61 175.86,336.34 174.9,336.82 173.94,337.17 172.98,337.78 172.02,338.58 171.44,339.23 171.06,338.75 170.1,338.64 169.14,339.66 168.18,340.43 167.6,340.43 167.22,340.24 166.26,339.79 165.3,339.51 164.34,339.75 163.76,339.94 163.38,340.41 162.42,341.23 161.46,341.04 160.5,339.52 159.54,338.94 158.68,339.63 158.58,339.49 157.62,339.81 156.66,340.69 155.7,340.47 154.84,340.13 154.74,340.55 153.78,340.18 152.82,341.97 151.86,344.83 150.9,365.78" fill="#0000ff" fill-opacity="0.5"/>
<polygon points="150.9,338.71 151.86,338.31 152.82,337.37 153.3,336.81 153.78,336.14 154.74,334.77 155.7,334.67 156.66,334.05 157.62,332.56 158.58,330.77 159.54,328.94 160.5,327.58 161.46,326.36 162.42,324.69 163.38,322.84 163.76,322.63 164.34,322.56 165.3,321.61 166.26,321.27 167.22,320.85 168.18,319.39 169.14,318.12 170.1,316.97 171.06,315.24 172.02,313.74 172.98,312.46 173.94,312.03 174.9,311.72 175.86,310.12 176.63,308.86 176.82,308.7 177.78,307.82 178.74,307.12 179.7,306.59 180.66,305.97 181.62,305.19 182.58,304.47 182.96,304.01 183.54,303.45 184.5,303.42 185.46,303.12 186.42,301.74 187.38,301.17 188.34,301.32 189.3,300.46 190.26,299.53 191.22,299.33 192.18,300.22 193.14,301.08 194.1,300.96 194.58,300.31 195.06,299.96 195.83,299.97 196.02,299.67 196.98,298.83 197.94,298.7 198.9,299.83 199.86,300.72 200.82,299.67 201.78,298.17 202.74,298.15 203.7,298.54 204.66,298.54 205.43,298.6 205.62,298.39 206.58,297.95 207.54,298.12 208.5,298.92 209.46,299.37 210.42,299.46 211.38,299.41 211.76,299.42 212.34,299.43 213.3,299.25 214.26,299.49 215.22,299.52 216.18,299.3 217.14,299.71 218.1,300.45 219.06,300.84 220.02,300.68 220.98,300.14 221.94,299.88 222.9,299.96 223.86,300.71 224.63,300.96 224.82,300.49 225.78,300.46 226.74,300.63 227.7,301.14 228.66,301.29 229.62,300.77 230.58,300.8 230.96,301.4 231.54,301.17 232.5,301.01 233.46,301.35 234.42,301.03 235.38,300.91 236.34,301 237.3,301.38 238.26,302.59 239.22,302.84 240.18,302.38 241.14,303.05 242.1,303.2 243.06,302.67 244.02,303.33 244.98,303.76 245.94,302.83 246.9,302.15 246.9,314.16 245.94,314.48 244.98,314.57 244.02,315.78 243.06,313.59 242.1,313.75 241.14,314.28 240.18,313.61 239.22,312.47 238.26,311.85 237.3,311.69 236.34,312.74 235.38,313.96 234.42,314.27 233.46,314.4 232.5,314.52 231.54,314.91 230.96,316.12 230.58,316.3 229.62,315.93 228.66,316.99 227.7,316.42 226.74,314.84 225.78,314.78 224.82,316.34 224.63,316.07 223.86,315.45 222.9,316.29 221.94,316.24 220.98,315.4 220.02,316.31 219.06,318.33 218.1,318.15 217.14,316.51 216.18,316.44 215.22,317.45 214.26,318.35 213.3,319.23 212.34,319.41 211.76,319.09 211.38,318.95 210.42,318.69 209.46,319.47 208.5,321.26 207.54,321.93 206.58,321.41 205.62,320.68 205.43,320.44 204.66,321.51 203.7,322.39 202.74,322.61 201.78,322.99 200.82,324.21 199.86,325.86 198.9,326.56 197.94,326.9 196.98,328.41 196.02,330.62 195.83,330.99 195.06,332.63 194.58,336.43 194.1,332.57 193.14,333.51 192.18,334.01 191.22,334.48 190.26,335.05 189.3,335.46 188.34,335.27 187.38,335.93 186.42,337.24 185.46,338.26 184.5,339.4 183.54,339.31 182.96,338.09 182.58,337.37 181.62,338.05 180.66,339.67 179.7,339.69 178.74,338.27 177.78,338.49 176.82,339.64 176.63,339.56 175.86,339.11 174.9,339.05 173.94,339.88 172.98,340.9 172.02,342.01 171.06,341.36 170.1,340.47 169.14,340.34 168.18,340.13 167.22,340.15 166.26,340.08 165.3,341.25 164.34,345.4 163.76,342.5 163.38,342.51 162.42,342.66 161.46,341.64 160.5,340.81 159.54,341.81 158.58,342.29 157.62,342.49 156.66,345.07 155.7,344.08 154.74,343.98 153.78,344.08 153.3,344.05 152.82,343.09 151.86,341.54 150.9,340.01" fill="#ff0000" fill-opacity="0.5"/>
<polyline points="150.9,366.85 151.86,344.35 152.82,340.39 153.78,337.03 154.74,335.94 155.7,334.81 156.66,333.62 157.62,332.39 158.58,331.6 159.54,330.99 160.5,330.46 161.46,329.64 162.42,328.7 163.38,328.48 164.34,328.34 165.3,327.62 166.26,326.73 167.22,325.59 168.18,324.54 169.14,323.9 170.1,323.2 171.06,322.74 172.02,322.56 172.98,322.03 173.94,321.33 174.9,320.98 175.86,320.26 176.82,319.43 177.78,319.21 178.74,318.88 179.7,318.19 180.66,317.64 181.62,317.38 182.58,317.22 183.54,316.94 184.5,316.19 185.46,315.62 186.42,315.41 187.38,315.16 188.34,314.91 189.3,314.47 190.26,313.82 191.22,313.12 192.18,312.55 193.14,312.08 194.1,311.55 195.06,311.04 196.02,310.59 196.98,310.42 197.94,309.87 198.9,309.28 199.86,309.53 200.82,309.39 201.78,309.04 202.74,309.07 203.7,309.17 204.66,309.24 205.62,309.3 206.58,309.06 207.54,308.7 208.5,308.61 209.46,308.43 210.42,308.17 211.38,308.14 212.34,308.27 213.3,308.43 214.26,308.46 215.22,308.44 216.18,308.4 217.14,308.4 218.1,308.33 219.06,308.13 220.02,308.09 220.98,308.08 221.94,307.92 222.9,307.88 223.86,308.09 224.82,308.38 225.78,308.5 226.74,308.29 227.7,308 228.66,307.83 229.62,308.04 230.58,308.49 231.54,308.62 232.5,308.51 233.46,308.6 234.42,308.77 235.38,308.73 236.34,308.36 237.3,308.03 238.26,308.2 239.22,308.37 240.18,308.22 241.14,308.11 242.1,308.08 243.06,308.01 244.02,308.18 244.98,308.48 245.94,308.5 246.9,308.57" fill="none" stroke="#0000ff" stroke-width="1.1" stroke-linejoin="round"/>
<polyline points="150.9,338.7 151.86,338.68 152.82,338.76 153.78,338.76 154.74,338.09 155.7,337.32 156.66,336.39 157.62,335.51 158.58,334.88 159.54,334.32 160.5,333.51 161.46,332.42 162.42,331.15 163.38,330.08 164.34,329.33 165.3,328.67 166.26,328.14 167.22,327.6 168.18,326.78 169.14,325.96 170.1,325.21 171.06,324.46 172.02,323.96 172.98,323.67 173.94,323.28 174.9,322.97 175.86,322.59 176.82,322.06 177.78,321.59 178.74,321.09 179.7,320.78 180.66,320.64 181.62,320.2 182.58,319.33 183.54,318.91 184.5,318.95 185.46,318.49 186.42,317.97 187.38,317.84 188.34,317.71 189.3,317.39 190.26,316.95 191.22,316.45 192.18,315.73 193.14,315.17 194.1,314.89 195.06,314.42 196.02,313.56 196.98,312.78 197.94,312.52 198.9,312.36 199.86,312.16 200.82,312.27 201.78,312.24 202.74,311.66 203.7,311.24 204.66,311.2 205.62,310.79 206.58,310.06 207.54,310 208.5,310.21 209.46,309.74 210.42,309.29 211.38,309.19 212.34,309.14 213.3,309.32 214.26,309.32 215.22,308.88 216.18,308.65 217.14,308.73 218.1,308.64 219.06,308.43 220.02,308.29 220.98,308.14 221.94,308.14 222.9,308.4 223.86,308.35 224.82,307.85 225.78,307.77 226.74,308.19 227.7,308.44 228.66,308.4 229.62,308.41 230.58,308.33 231.54,308.11 232.5,307.92 233.46,307.85 234.42,307.76 235.38,307.82 236.34,308.04 237.3,307.99 238.26,308.02 239.22,308.13 240.18,308.05 241.14,307.94 242.1,307.83 243.06,307.95 244.02,308.22 244.98,308.12 245.94,307.83 246.9,307.71" fill="none" stroke="#ff0000" stroke-width="1.1" stroke-linejoin="round"/>
</g>
<g font-size="9.4" text-anchor="middle"><text transform="translate(151.1,388.9) scale(1,1.03)" >0</text><text transform="translate(198.9,388.9) scale(1,1.03)" >5</text><text transform="translate(246.9,388.9) scale(1,1.03)" >10</text></g>
<rect x="266" y="285.3" width="95.5" height="95.2" fill="none" stroke="#737373" stroke-width="1"/>
<path d="M289.88 285.3v2.8M289.88 380.5v-2.8M313.75 285.3v2.8M313.75 380.5v-2.8M337.62 285.3v2.8M337.62 380.5v-2.8M266 300.8h3M361.5 300.8h-3M266 329.9h3M361.5 329.9h-3M266 359h3M361.5 359h-3" stroke="#737373" stroke-width="1" fill="none"/>
<g clip-path="url(#cC2)">
<polygon points="266,338.79 266.95,337.3 267.91,335.73 268.58,334.5 268.87,333.81 269.82,331.78 270.77,330 271.73,328.8 272.4,328.05 272.69,327.85 273.64,327.38 274.6,326.83 275.55,325.75 276.5,324.96 277.46,324.3 278.42,323.34 278.8,322.78 279.37,321.54 280.32,320.37 281.28,317.73 282.24,314.26 283.19,312.11 284.14,310.9 285.1,309.68 286.06,309.01 287.01,308.15 287.96,306.51 288.92,304.47 289.88,303.33 290.83,302.6 291.59,301.82 291.79,300.99 292.74,299.45 293.69,299.81 294.65,300.41 295.61,299.43 296.56,298.27 297.51,297.06 297.99,296.28 298.47,296 299.43,295.62 300.38,295.15 301.33,293.67 301.81,292.95 302.29,294.01 303.25,294.33 304.2,293.76 305.15,293.91 306.11,294.39 307.06,294.05 308.02,294.18 308.98,295.82 309.93,296.8 310.88,295.75 311.84,295.39 312.8,296.72 313.75,297.2 314.04,295.92 314.7,294.88 315.66,294.92 316.62,295.16 317.57,295.12 318.52,295.2 319.48,294.92 320.44,294.68 321.39,296.06 322.35,296.55 323.3,295.7 324.25,295.98 325.21,296.58 326.17,296.88 326.83,297.15 327.12,297.27 328.07,297.68 329.03,297.35 329.99,297.04 330.94,297.57 331.89,298.18 332.85,298.48 333.23,297.98 333.81,297.96 334.76,298.63 335.72,298.36 336.67,298.27 337.62,298.36 338.58,297.66 339.53,297.15 339.63,297.67 340.49,298.23 341.44,297.32 342.4,296.36 343.36,297.12 344.31,298.59 345.26,298.5 346.03,297.27 346.22,297.61 347.18,298.51 348.13,297.9 349.08,297.22 350.04,297.9 351,298.6 351.95,297.48 352.43,296.62 352.9,297.4 353.86,297.8 354.81,297.43 355.77,296.75 356.73,296.32 357.68,297.39 358.63,298.29 359.59,297.96 360.55,298.98 361.5,300.19 361.5,322.16 360.55,322.96 359.59,322.95 358.63,322.63 357.68,322.69 356.73,323.05 355.77,323.35 354.81,324.1 353.86,324.87 352.9,325.31 352.43,326.79 351.95,325.46 351,324.24 350.04,324.92 349.08,327.21 348.13,324.98 347.18,324.39 346.22,323.15 346.03,322.98 345.26,323.73 344.31,323.47 343.36,323.11 342.4,323.13 341.44,322.31 340.49,321.6 339.63,322.25 339.53,323.62 338.58,324.57 337.62,324.23 336.67,323.17 335.72,322.37 334.76,321.53 333.81,321.24 333.23,322.2 332.85,323.19 331.89,323.87 330.94,324.11 329.99,324.61 329.03,325.61 328.07,325.38 327.12,325.23 326.83,326.51 326.17,326.94 325.21,325.96 324.25,326.22 323.3,327.57 322.35,328 321.39,328.39 320.44,329.11 319.48,328.95 318.52,328.45 317.57,328.45 316.62,329.45 315.66,330.76 314.7,331.61 314.04,332.05 313.75,332.05 312.8,331.82 311.84,331.45 310.88,332.22 309.93,333.34 308.98,333.43 308.02,333.68 307.06,334.92 306.11,335.4 305.15,335.02 304.2,335.83 303.25,337.04 302.29,337.63 301.81,338.08 301.33,338.11 300.38,337.65 299.43,338.15 298.47,339.47 297.99,340.08 297.51,340.55 296.56,340.27 295.61,338.96 294.65,338.95 293.69,340.94 292.74,342.99 291.79,343.54 291.59,342.87 290.83,342.79 289.88,343.03 288.92,343.06 287.96,343.22 287.01,343.37 286.06,343.16 285.1,342.74 284.14,342.8 283.19,343.06 282.24,343.11 281.28,343.89 280.32,344.3 279.37,343.94 278.8,343.51 278.42,343.08 277.46,342.52 276.5,343.01 275.55,345.53 274.6,342.27 273.64,342.36 272.69,343.07 272.4,342.87 271.73,342.26 270.77,342.41 269.82,343.14 268.87,343 268.58,342.52 267.91,343.78 266.95,345.97 266,366.54" fill="#0000ff" fill-opacity="0.5"/>
<polygon points="266,338.8 266.95,337.61 267.91,336.26 268.39,336.22 268.58,335.47 268.87,334.93 269.82,335.64 270.77,335.93 271.73,335.25 272.4,335.72 272.69,336.65 273.64,336.01 274.6,334.94 275.55,334.07 276.22,334.19 276.5,334.63 277.46,333.58 278.42,333.11 278.8,333.25 279.37,332.26 280.32,331.61 281.28,331.39 282.24,330.77 282.62,330.8 283.19,329.73 284.14,326.73 285.1,323.32 286.06,321.04 287.01,318.95 287.77,316.42 287.96,315.48 288.92,314.08 289.88,312.98 290.83,310.5 291.59,307.86 291.79,307.5 292.74,306.77 293.69,305.72 294.65,304.01 295.61,302.25 296.56,301.3 297.51,301.47 297.99,301.71 298.47,300.77 299.43,299.57 300.38,298.24 301.33,296.74 301.81,296.95 302.29,297.73 303.25,297.24 304.2,296.12 305.15,295.35 306.11,295.62 307.06,296.04 308.02,295.86 308.98,295.91 309.93,296.14 310.88,295.81 311.84,295.8 312.8,296.15 313.75,296.06 314.04,296.38 314.7,297.15 315.66,296.43 316.62,294.88 317.57,295.07 318.52,295.83 319.48,295.78 320.44,296.22 321.39,297.15 322.35,297.72 323.3,297.57 324.25,296.49 325.21,296.29 326.17,296.93 326.83,297.66 327.12,298.33 328.07,298.1 329.03,297.36 329.99,296.99 330.94,296.91 331.89,296.9 332.85,297.49 333.23,298.72 333.81,298.7 334.76,297.81 335.72,297.86 336.67,298.22 337.62,298.39 338.58,298.57 339.53,298.92 339.63,299.35 340.49,298.54 341.44,297.12 342.4,296.81 343.36,297.75 344.31,298.58 345.26,298.41 346.03,297.86 346.22,297.44 347.18,297.43 348.13,297.25 349.08,297.26 350.04,297.31 351,297.7 351.95,298.43 352.43,297.71 352.9,297.74 353.86,298.98 354.81,298.28 355.77,297.04 356.73,297.92 357.68,298.56 358.63,297.91 359.59,297.74 360.55,297.67 361.5,298.2 361.5,324.39 360.55,324.72 359.59,324.9 358.63,324.5 357.68,324.59 356.73,325.41 355.77,328.48 354.81,327.2 353.86,327.59 352.9,327.49 352.43,326.55 351.95,326.13 351,326.05 350.04,326.56 349.08,327.16 348.13,327.02 347.18,326.18 346.22,325.7 346.03,326.38 345.26,326.5 344.31,326.24 343.36,326.3 342.4,325.57 341.44,324.52 340.49,324.41 339.63,324.22 339.53,323.8 338.58,323.85 337.62,324.07 336.67,324.96 335.72,325.81 334.76,324.91 333.81,323.98 333.23,325.04 332.85,325.95 331.89,325.94 330.94,326.81 329.99,327.46 329.03,326.89 328.07,326.45 327.12,326.47 326.83,326.89 326.17,327.49 325.21,327.74 324.25,328.63 323.3,330.68 322.35,332.27 321.39,332.36 320.44,333.29 319.48,334.3 318.52,333.99 317.57,334.43 316.62,335.12 315.66,335.22 314.7,335.57 314.04,335.76 313.75,335.83 312.8,336.76 311.84,337.26 310.88,336.66 309.93,336.73 308.98,338.18 308.02,339 307.06,338.71 306.11,339.34 305.15,340.69 304.2,341.2 303.25,341.69 302.29,342.2 301.81,341.73 301.33,341.08 300.38,341.76 299.43,342.31 298.47,341.9 297.99,342.46 297.51,344.14 296.56,345.02 295.61,344.48 294.65,344.8 293.69,344.21 292.74,344.18 291.79,343.91 291.59,344.11 290.83,343.87 289.88,344.22 288.92,344.67 287.96,343.7 287.77,342.71 287.01,342.27 286.06,342.82 285.1,344.17 284.14,343.27 283.19,343.64 282.62,344.82 282.24,344.15 281.28,343.02 280.32,342.22 279.37,341.08 278.8,341.38 278.42,342.2 277.46,342.64 276.5,342.94 276.22,342.51 275.55,342.33 274.6,343.11 273.64,343.55 272.69,342.24 272.4,341.78 271.73,342.73 270.77,343.52 269.82,343.81 268.87,341.87 268.58,341.66 268.39,342.29 267.91,341.94 266.95,340.76 266,339.29" fill="#ff0000" fill-opacity="0.5"/>
<polyline points="266,366.89 266.95,343.91 267.91,341.05 268.87,338.77 269.82,337.95 270.77,336.88 271.73,336.41 272.69,336.15 273.64,335.5 274.6,335.03 275.55,334.52 276.5,333.8 277.46,333.03 278.42,332.19 279.37,331.3 280.32,330.67 281.28,330.27 282.24,329.65 283.19,328.75 284.14,327.83 285.1,327.26 286.06,326.65 287.01,325.65 287.97,324.77 288.92,324.33 289.88,324 290.83,323.39 291.79,322.81 292.74,322.17 293.69,321.13 294.65,320.09 295.61,319.28 296.56,318.87 297.51,318.49 298.47,318.06 299.43,317.5 300.38,316.9 301.33,316.7 302.29,316.32 303.25,315.74 304.2,315.54 305.16,315.55 306.11,315.4 307.06,315.39 308.02,315.16 308.98,314.66 309.93,314.22 310.88,314.14 311.84,314.24 312.8,314.04 313.75,313.78 314.7,313.68 315.66,313.6 316.62,313.33 317.57,312.97 318.52,312.75 319.48,312.6 320.44,312.29 321.39,312 322.35,312.14 323.3,312.25 324.25,311.85 325.21,311.72 326.17,311.74 327.12,311.56 328.07,311.51 329.03,311.55 329.99,311.42 330.94,311.16 331.89,310.86 332.85,310.6 333.81,310.52 334.76,310.51 335.72,310.46 336.67,310.43 337.62,310.34 338.58,310.17 339.53,309.94 340.49,309.79 341.44,309.77 342.4,310.01 343.36,310.07 344.31,309.89 345.26,309.87 346.22,309.85 347.18,309.78 348.13,309.8 349.09,310.07 350.04,310.44 351,310.65 351.95,310.67 352.9,310.25 353.86,309.99 354.81,310.28 355.77,310.42 356.73,310.53 357.68,310.69 358.63,310.24 359.59,309.58 360.55,309.52 361.5,309.84" fill="none" stroke="#0000ff" stroke-width="1.1" stroke-linejoin="round"/>
<polyline points="266,340.01 266.95,339.81 267.91,339.61 268.87,339.67 269.82,339.98 270.77,340.04 271.73,339.96 272.69,339.75 273.64,339.15 274.6,338.67 275.55,338.12 276.5,337.44 277.46,336.86 278.42,336.41 279.37,335.97 280.32,335.35 281.28,334.53 282.24,333.61 283.19,332.58 284.14,331.74 285.1,331.04 286.06,330.33 287.01,329.63 287.97,328.7 288.92,327.66 289.88,326.98 290.83,326.74 291.79,326.37 292.74,325.37 293.69,324.4 294.65,323.93 295.61,323.28 296.56,322.89 297.51,323.05 298.47,322.58 299.43,321.46 300.38,320.59 301.33,320.06 302.29,319.68 303.25,319.23 304.2,318.47 305.16,317.93 306.11,317.78 307.06,317.83 308.02,317.43 308.98,316.98 309.93,317.03 310.88,316.87 311.84,316.5 312.8,316.57 313.75,316.57 314.7,316.49 315.66,316.3 316.62,315.88 317.57,315.52 318.52,315.21 319.48,314.99 320.44,314.94 321.39,314.68 322.35,314.22 323.3,313.84 324.25,313.45 325.21,313.32 326.17,313.51 327.12,313.63 328.07,313.54 329.03,313.32 329.99,313 330.94,312.88 331.89,313.07 332.85,312.92 333.81,312.47 334.76,312.39 335.72,312.34 336.67,312 337.62,311.9 338.58,312.02 339.53,312.04 340.49,311.99 341.44,311.86 342.4,311.85 343.36,312.02 344.31,311.96 345.26,311.56 346.22,311.28 347.18,311.27 348.13,311.46 349.09,311.7 350.04,311.66 351,311.42 351.95,311.32 352.9,311.4 353.86,311.42 354.81,311.16 355.77,310.99 356.73,311.03 357.68,310.83 358.63,310.44 359.59,310.33 360.55,310.72 361.5,310.94" fill="none" stroke="#ff0000" stroke-width="1.1" stroke-linejoin="round"/>
</g>
<g font-size="9.4" text-anchor="middle"><text transform="translate(266.2,388.9) scale(1,1.03)" >0</text><text transform="translate(313.75,388.9) scale(1,1.03)" >5</text><text transform="translate(361.5,388.9) scale(1,1.03)" >10</text></g>
<rect x="36.5" y="400.3" width="95.6" height="95.7" fill="none" stroke="#737373" stroke-width="1"/>
<path d="M60.4 400.3v2.8M60.4 496v-2.8M84.3 400.3v2.8M84.3 496v-2.8M108.2 400.3v2.8M108.2 496v-2.8M36.5 409.2h3M132.1 409.2h-3M36.5 440.7h3M132.1 440.7h-3M36.5 472.1h3M132.1 472.1h-3" stroke="#737373" stroke-width="1" fill="none"/>
<g clip-path="url(#cD0)">
<polygon points="36.5,464.48 37.46,454.81 38.41,451.27 38.99,449.67 39.37,448.9 40.32,445.83 41.28,442.7 42.04,441.07 42.24,440.94 43.19,438.75 44.15,436.84 45.01,435.73 45.1,436.14 46.06,435.18 47.02,433.59 47.97,431.84 48.93,430.83 49.88,430.04 50.84,428.81 51.13,428.41 51.8,428.07 52.75,427.01 53.71,425.57 54.66,424.5 55.62,422.97 56.58,422.18 57.53,422.2 58.49,422.54 59.44,422.59 60.11,422.16 60.4,421.54 61.36,422.04 61.64,423.11 62.31,422.77 63.27,421.85 64.22,422.41 65.18,423.83 66.14,425.09 67.09,424.36 68.05,423 69,422.34 69.96,421.73 70.72,421.01 70.92,420.64 71.87,419.7 72.83,419.12 73.78,418.93 74.74,418.34 75.22,418.01 75.7,418.3 76.65,418.13 77.61,417.63 78.56,416.85 79.52,416.63 80.48,417.18 81.24,416.71 81.43,415.95 82.39,415.48 83.34,415.01 84.01,415.13 84.3,415.41 85.26,414.7 86.21,414.04 87.17,413.67 88.12,413.2 89.08,412.78 90.04,412.54 90.99,411.75 91.57,411.25 91.95,412.1 92.9,412.79 93.86,412.35 94.82,411.37 95.77,410.73 96.73,410.9 97.68,411.4 98.64,411.02 99.12,410.35 99.6,410.69 100.55,411.05 101.51,410.64 102.46,410.12 103.42,409.52 104.38,409.35 105.33,410.03 106.29,410.39 106.67,410.45 107.24,410.41 108.2,409.9 109.16,409.66 110.11,409.6 111.07,408.93 112.02,408.61 112.98,409.06 113.94,409.23 114.22,409.27 114.89,409.69 115.85,409.77 116.8,408.95 117.76,408.07 118.72,407.98 119.67,408.41 120.63,408.81 121.58,409.05 121.78,409.6 122.54,409.64 123.5,409.03 124.45,408.89 125.41,408.79 126.36,408.48 127.32,408.54 128.28,408.88 129.23,409.12 129.33,409.46 130.19,409.13 131.14,408.1 132.1,408.12 132.1,423.71 131.14,424.18 130.19,424.67 129.33,424.22 129.23,424.11 128.28,424.18 127.32,424.13 126.36,425.26 125.41,426.2 124.45,426.08 123.5,426.04 122.54,426.13 121.78,426.25 121.58,426.13 120.63,425.71 119.67,426.08 118.72,427.2 117.76,427.63 116.8,427.78 115.85,428.03 114.89,427.54 114.22,426.86 113.94,427 112.98,427.43 112.02,427.83 111.07,428.21 110.11,427.87 109.16,427.35 108.2,427.61 107.24,428.64 106.67,429.79 106.29,430.27 105.33,430.38 104.38,430.21 103.42,430.32 102.46,431.01 101.51,431.19 100.55,431.13 99.6,431.67 99.12,431.77 98.64,431.51 97.68,432.05 96.73,432.54 95.77,432.97 94.82,434.09 93.86,435.22 92.9,435.81 91.95,435.96 91.57,435.71 90.99,436.01 90.04,436.76 89.08,437.3 88.12,437.7 87.17,437.48 86.21,437.19 85.26,437.52 84.3,437.7 84.01,437.38 83.34,437.17 82.39,437.49 81.43,438.72 81.24,439.44 80.48,439.89 79.52,440.14 78.56,440.25 77.61,440.76 76.65,441.83 75.7,442.7 75.22,442.41 74.74,442.2 73.78,442.82 72.83,443 71.87,442.42 70.92,442.65 70.72,444.01 69.96,444.54 69,444.26 68.05,444.66 67.09,444.83 66.14,444.9 65.18,445.75 64.22,446.5 63.27,447.14 62.31,447.6 61.64,447.82 61.36,448.36 60.4,449.35 60.11,449.5 59.44,449.38 58.49,449.4 57.53,449.29 56.58,449.41 55.62,450.08 54.66,450.47 53.71,450.26 52.75,450.38 51.8,450.76 51.13,451.41 50.84,451.77 49.88,451.31 48.93,451.17 47.97,451.46 47.02,452.02 46.06,453.13 45.1,453.38 45.01,453.05 44.15,452.63 43.19,452.4 42.24,452.81 42.04,453 41.28,453.21 40.32,453.83 39.37,454.14 38.99,454.31 38.41,457.14 37.46,461.77 36.5,477.4" fill="#0000ff" fill-opacity="0.5"/>
<polygon points="36.5,477.8 37.46,470.12 38.41,466.35 38.99,463.22 39.37,461.27 40.32,459.26 41.28,457.89 42.04,457.06 42.24,457.57 43.19,456.71 44.15,455.09 45.01,453.3 45.1,453.26 46.06,453.27 47.02,453 47.97,452.11 48.93,449.85 49.88,448.27 50.84,447.13 51.13,446.5 51.8,446.02 52.75,445.71 53.71,445.03 54.66,443.87 55.62,442.98 56.58,442.68 57.53,442.33 58.49,441.78 59.44,441.05 60.4,440.5 61.36,440.6 61.64,440.87 62.31,439.97 63.27,439.39 64.22,439.37 65.18,438.83 66.14,438.22 67.09,437.3 68.05,436.98 69,436.74 69.96,436.06 70.72,434.91 70.92,434.3 71.87,434.8 72.83,435.7 73.78,436 74.74,436.13 75.22,436.39 75.7,436.35 76.65,436.02 77.61,435.77 78.56,435.73 79.52,436.02 80.48,436.07 81.24,435.44 81.43,435.06 82.39,435.82 83.34,436.52 84.01,436.28 84.3,435.48 85.26,434.01 86.21,433.14 87.17,432.98 88.12,432.64 88.51,432.13 89.08,432.04 90.04,431.81 90.99,430.64 91.57,430.74 91.95,432.12 92.9,432.85 93.1,432.53 93.86,429.64 94.82,426.62 95.77,424.36 96.06,424.18 96.73,424.17 97.68,423.37 98.64,422.66 99.6,422.17 100.55,421.37 101.51,420.88 102.46,420.31 103.42,419.09 103.61,418.63 104.38,418.88 105.33,419.09 106.29,418.82 107.24,419.01 108.2,419.33 109.16,418.85 110.11,419.17 111.07,418.82 112.02,417.7 112.98,417.16 113.94,416.97 114.22,416.67 114.89,416.44 115.85,416.6 116.8,416.69 117.76,416.92 118.72,417.42 119.67,417.68 120.63,417.78 121.58,417.91 121.78,417.89 122.54,418.02 123.5,418.51 124.45,418.07 125.41,416.51 126.36,415.82 127.32,416.73 128.28,417.07 129.23,416.26 129.33,415.98 130.19,416.26 131.14,416.41 132.1,416.49 132.1,472.43 131.14,472.48 130.19,473.72 129.33,473.92 129.23,473.63 128.28,473.97 127.32,473.76 126.36,472.84 125.41,471.99 124.45,470.99 123.5,471.49 122.54,472.1 121.78,471.88 121.58,473.1 120.63,474.21 119.67,473.64 118.72,472.49 117.76,472.01 116.8,473.13 115.85,475.32 114.89,475.86 114.22,474.39 113.94,473.45 112.98,473.4 112.02,474.39 111.07,475.35 110.11,475.22 109.16,475.77 108.2,475.51 107.24,473.23 106.29,472.66 105.33,473.05 104.38,473.56 103.61,475.75 103.42,476.69 102.46,476.01 101.51,476.37 100.55,476.64 99.6,474.48 98.64,471.78 97.68,469.62 96.73,469.04 96.06,471.13 95.77,472.37 94.82,472.55 93.86,472.58 93.1,470.91 92.9,468.67 91.95,467.27 91.57,468.63 90.99,470.11 90.04,471.48 89.08,474.1 88.51,474.81 88.12,474.34 87.17,472.42 86.21,469.55 85.26,470.59 84.3,472.9 84.01,473.08 83.34,472 82.39,471.75 81.43,473.18 81.24,473.79 80.48,471.98 79.52,470.14 78.56,471.32 77.61,474.05 76.65,474.54 75.7,472.25 75.22,471.41 74.74,471.98 73.78,472.12 72.83,474.55 71.87,477.52 70.92,477.11 70.72,475.17 69.96,473.79 69,473.13 68.05,474.34 67.09,474.43 66.14,473.55 65.18,474.62 64.22,475.32 63.27,474.48 62.31,473.3 61.64,474.27 61.36,475.99 60.4,475.27 59.44,474.1 58.49,473.84 57.53,475 56.58,474.66 55.62,471.76 54.66,472.02 53.71,472.7 52.75,471.33 51.8,473.19 51.13,475.81 50.84,473.53 49.88,472.3 48.93,472.88 47.97,471.71 47.02,474.58 46.06,477.79 45.1,476.34 45.01,475.78 44.15,477.66 43.19,475.79 42.24,471.6 42.04,472.12 41.28,472.51 40.32,470.66 39.37,471.65 38.99,473.84 38.41,477.54 37.46,481.14 36.5,483.35" fill="#ff0000" fill-opacity="0.5"/>
<polyline points="36.5,476.63 37.46,464.45 38.41,456.22 39.37,450.77 40.32,449.37 41.28,447.92 42.24,446.54 43.19,445.41 44.15,444.39 45.1,443.57 46.06,443.09 47.02,442.48 47.97,441.93 48.93,441.39 49.88,440.75 50.84,440.13 51.8,439.62 52.75,439.15 53.71,438.51 54.66,437.96 55.62,437.71 56.58,437.25 57.53,436.61 58.49,436.28 59.44,436.03 60.4,435.48 61.36,434.88 62.31,434.54 63.27,434.22 64.22,433.83 65.18,433.75 66.14,433.48 67.09,432.77 68.05,432.33 69,432.1 69.96,431.74 70.92,431.37 71.87,430.93 72.83,430.49 73.78,430.2 74.74,429.92 75.7,429.53 76.65,429.14 77.61,428.89 78.56,428.56 79.52,427.95 80.48,427.29 81.43,426.9 82.39,426.78 83.34,426.69 84.3,426.44 85.26,426.07 86.21,425.74 87.17,425.36 88.12,425.05 89.08,424.77 90.04,424.55 90.99,424.35 91.95,423.98 92.9,423.75 93.86,423.6 94.82,423.13 95.77,422.56 96.73,422.24 97.68,422.09 98.64,421.92 99.6,421.62 100.55,421.25 101.51,421.03 102.46,420.96 103.42,420.97 104.38,420.9 105.33,420.73 106.29,420.58 107.24,420.43 108.2,420.41 109.16,420.46 110.11,420.28 111.07,419.99 112.02,419.93 112.98,419.96 113.94,419.77 114.89,419.45 115.85,419.15 116.8,418.81 117.76,418.55 118.72,418.32 119.67,418.2 120.63,418.07 121.58,417.57 122.54,417.04 123.5,416.79 124.45,416.76 125.41,416.56 126.36,416.26 127.32,416.13 128.28,415.98 129.23,415.74 130.19,415.81 131.14,415.88 132.1,415.89" fill="none" stroke="#0000ff" stroke-width="1.1" stroke-linejoin="round"/>
<polyline points="36.5,476.77 37.46,472.67 38.41,470.53 39.37,468.64 40.32,466.61 41.28,465.35 42.24,464.3 43.19,463.4 44.15,462.56 45.1,461.67 46.06,461.34 47.02,461.05 47.97,460.61 48.93,460.06 49.88,459.48 50.84,459 51.8,458.7 52.75,458.38 53.71,458 54.66,457.8 55.62,457.64 56.58,457.31 57.53,456.95 58.49,456.46 59.44,455.97 60.4,455.74 61.36,455.65 62.31,455.52 63.27,455.16 64.22,454.8 65.18,454.64 66.14,454.27 67.09,453.98 68.05,453.97 69,454 69.96,453.94 70.92,453.52 71.87,453.06 72.83,452.98 73.78,452.81 74.74,452.62 75.7,452.59 76.65,452.52 77.61,452.28 78.56,452.14 79.52,452.18 80.48,452.05 81.43,451.87 82.39,451.72 83.34,451.55 84.3,451.49 85.26,451.4 86.21,451.17 87.17,451.01 88.12,450.85 89.08,450.7 90.04,450.5 90.99,450.46 91.95,450.53 92.9,450.4 93.86,450.2 94.82,449.95 95.77,449.57 96.73,449.11 97.68,448.74 98.64,448.44 99.6,448.14 100.55,447.82 101.51,447.77 102.46,447.83 103.42,447.57 104.38,447.28 105.33,447.17 106.29,446.99 107.24,446.77 108.2,446.57 109.16,446.44 110.11,446.43 111.07,446.41 112.02,446.4 112.98,446.39 113.94,446.22 114.89,446.13 115.85,446.14 116.8,445.87 117.76,445.51 118.72,445.42 119.67,445.34 120.63,445.32 121.58,445.5 122.54,445.44 123.5,444.97 124.45,444.47 125.41,444.34 126.36,444.27 127.32,444.2 128.28,444.18 129.23,443.99 130.19,444.21 131.14,444.55 132.1,444.9" fill="none" stroke="#ff0000" stroke-width="1.1" stroke-linejoin="round"/>
</g>
<g font-size="9.4" text-anchor="middle"><text transform="translate(36.7,504.4) scale(1,1.03)" >0</text><text transform="translate(84.3,504.4) scale(1,1.03)" >5</text><text transform="translate(132.1,504.4) scale(1,1.03)" >10</text></g>
<text transform="translate(31.3,414) scale(1,1.07)" text-anchor="end" font-size="9.3">10</text>
<text transform="translate(35.9,407.3) scale(1,1.15)" text-anchor="end" font-size="6.4">0</text>
<text transform="translate(27.6,445.5) scale(1,1.07)" text-anchor="end" font-size="9.3">10</text>
<text transform="translate(35.9,438.8) scale(1,1.15)" text-anchor="end" font-size="6.4">2</text>
<rect x="28" y="436.4" width="2.7" height="1.1" fill="#000"/>
<text transform="translate(27.6,476.9) scale(1,1.07)" text-anchor="end" font-size="9.3">10</text>
<text transform="translate(35.9,470.2) scale(1,1.15)" text-anchor="end" font-size="6.4">4</text>
<rect x="28" y="467.8" width="2.7" height="1.1" fill="#000"/>
<rect x="150.9" y="400.3" width="96" height="95.7" fill="none" stroke="#737373" stroke-width="1"/>
<path d="M174.9 400.3v2.8M174.9 496v-2.8M198.9 400.3v2.8M198.9 496v-2.8M222.9 400.3v2.8M222.9 496v-2.8M150.9 409.2h3M246.9 409.2h-3M150.9 440.7h3M246.9 440.7h-3M150.9 472.1h3M246.9 472.1h-3" stroke="#737373" stroke-width="1" fill="none"/>
<g clip-path="url(#cD1)">
<polygon points="150.9,455.11 151.86,434.56 152.44,424.87 152.82,422.92 153.78,416.35 153.88,415.05 154.74,414.34 155.7,414.45 156.66,414.2 156.95,413.64 157.62,413.72 158.48,414.35 158.58,414.39 159.54,413.92 160.5,414.01 161.46,415.1 162.42,416.32 163,417.19 163.38,417.21 164.34,416.64 165.3,416.33 165.97,416.39 166.26,416.12 167.22,416.03 168.18,416.8 169.04,417.79 169.14,418.04 170.1,416.98 171.06,415.86 172.02,415.62 172.98,415.52 173.56,415.69 173.94,415.98 174.9,415.46 175.09,414.74 175.86,414.27 176.82,414.53 177.78,414.21 178.74,412.96 179.7,412.16 180.66,411.86 181.04,411.95 181.62,412.75 182.58,413.44 183.54,413.46 184.5,413.15 185.46,413.24 186.42,413.9 187.38,414.75 188.34,415.44 188.63,415.37 189.3,415.01 190.26,415.06 191.22,414.94 192.18,414.22 193.14,413.76 194.1,414.07 195.06,414.31 196.02,413.72 196.98,413.04 197.94,413.01 198.9,412.89 199.86,412.61 200.82,412.4 201.78,412.13 202.74,412.1 203.7,412.31 204.66,412.32 205.62,411.94 206.58,411.63 207.54,412.12 208.5,412.32 209.46,411.65 210.42,411.46 211.38,411.62 212.34,411.71 213.3,411.57 214.07,411.36 214.26,411.61 215.22,411.56 216.18,411.3 217.14,411.5 218.1,411.82 219.06,411.65 220.02,411.28 220.98,411.16 221.65,410.92 221.94,411.02 222.9,411.58 223.86,411.56 224.82,411.1 225.78,410.79 226.74,410.64 227.7,410.79 228.66,410.95 229.14,410.67 229.62,410.61 230.58,410.78 231.54,410.76 232.5,410.82 233.46,410.74 234.42,410.57 235.38,410.28 236.34,410.15 237.3,410.61 238.26,410.88 239.22,410.75 240.18,410.51 241.14,410.3 242.1,410.3 243.06,410.23 244.02,410.1 244.98,410.09 245.94,410.41 246.9,410.8 246.9,414.62 245.94,414.57 244.98,414.78 244.02,414.87 243.06,414.64 242.1,414.5 241.14,414.51 240.18,414.36 239.22,414.05 238.26,414.08 237.3,414.26 236.34,414.14 235.38,413.97 234.42,414 233.46,414.15 232.5,414.35 231.54,414.39 230.58,414.4 229.62,414.46 229.14,414.38 228.66,414.43 227.7,414.53 226.74,414.24 225.78,414.25 224.82,414.73 223.86,414.91 222.9,414.7 221.94,414.53 221.65,414.67 220.98,414.9 220.02,415.12 219.06,415.51 218.1,415.64 217.14,415.63 216.18,415.97 215.22,416.38 214.26,416.37 214.07,416.09 213.3,416.7 212.34,417.45 211.38,417.47 210.42,417.49 209.46,417.89 208.5,418.1 207.54,418.47 206.58,419.22 205.62,419.49 204.66,419.65 203.7,419.98 202.74,419.76 201.78,419.61 200.82,420.06 199.86,420.55 198.9,421.21 197.94,422.28 196.98,422.94 196.02,422.11 195.06,420.84 194.1,421.04 193.14,422.15 192.18,422.1 191.22,421.98 190.26,422.59 189.3,422.48 188.63,422.32 188.34,422.6 187.38,423.04 186.42,423.45 185.46,423.66 184.5,423.82 183.54,424.33 182.58,425.05 181.62,425.56 181.04,425.41 180.66,424.8 179.7,424.77 178.74,424.73 177.78,424.03 176.82,423.45 175.86,423.16 175.09,423.26 174.9,423.51 173.94,422.48 173.56,421.57 172.98,421.94 172.02,422.69 171.06,422.46 170.1,422.05 169.14,422.34 169.04,422.33 168.18,423.01 167.22,424 166.26,423.88 165.97,423.42 165.3,425.05 164.34,427.11 163.38,428.08 163,428.69 162.42,429.04 161.46,428.26 160.5,427.72 159.54,427.26 158.58,427.09 158.48,427.45 157.62,427.14 156.95,426.57 156.66,426.47 155.7,427.88 154.74,429.28 153.88,429.41 153.78,429.85 152.82,434.15 152.44,435.91 151.86,449.31 150.9,477.13" fill="#0000ff" fill-opacity="0.5"/>
<polygon points="150.9,477.27 151.86,468.7 152.44,465.4 152.82,464.51 153.78,460.79 153.88,460.41 154.74,458.65 155.7,456.02 156.66,454.44 157.62,453.47 158.48,452.28 158.58,452.75 159.54,452.36 160.5,451.65 161.46,450.85 162.42,449.8 163.38,449.63 164.34,449.95 165.3,449.62 165.97,449.19 166.26,449.01 167.22,448.07 168.18,447.14 169.14,447.06 170.1,447.38 171.06,446.76 172.02,445.42 172.98,444.52 173.56,443.8 173.94,442.95 174.9,442.48 175.86,442.17 176.82,441.45 177.78,440.69 178.74,440.03 179.7,439.91 180.66,439.79 181.04,439.55 181.62,439.24 182.58,438.47 183.54,437.82 184.5,437.29 185.46,436.52 186.42,436.25 187.38,436.19 188.34,435.98 188.63,435.96 189.3,435.64 190.26,435.52 191.22,435.13 192.18,434.12 193.14,433.01 194.1,432.47 195.06,432.35 196.02,432.4 196.21,432.94 196.98,432.24 197.94,430.8 198.9,429.32 199.86,428.53 200.82,427.57 201.78,426.66 202.74,426.64 203.7,426.35 204.66,425.83 205.62,425.68 206.58,425.41 207.54,424.74 208.5,423.78 209.46,422.49 210.42,421.44 211.38,420.35 212.34,419.66 213.3,419.33 214.07,418.63 214.26,418.33 215.22,417.97 216.18,417.88 217.14,417.69 218.1,416.95 218.58,416.46 219.06,416.39 220.02,415.97 220.98,415.5 221.65,415.41 221.94,415.41 222.9,414.67 223.86,413.58 224.82,412.57 225.78,412.24 226.74,412.24 227.7,411.98 228.66,411.74 229.14,411.51 229.62,411.32 230.58,411.67 231.54,412.23 232.21,411.96 232.5,411.46 233.46,410.72 234.42,409.72 235.38,410.04 236.34,411.1 236.72,411.09 237.3,410.06 238.26,409.34 239.22,409.83 240.18,410.65 241.14,411.06 242.1,411.24 243.06,411.13 244.02,411.19 244.31,411.29 244.98,411.06 245.94,410.84 246.9,410.86 246.9,442.32 245.94,442.98 244.98,443.78 244.31,443.75 244.02,443.89 243.06,445.04 242.1,446.16 241.14,447.72 240.18,448.75 239.22,449.14 238.26,449.12 237.3,449.07 236.72,449.13 236.34,449.43 235.38,450.68 234.42,452.5 233.46,453.83 232.5,453.72 232.21,453.27 231.54,453.5 230.58,453.64 229.62,453.31 229.14,453.28 228.66,453.51 227.7,453.26 226.74,453.39 225.78,454.47 224.82,454.91 223.86,454.18 222.9,454.3 221.94,454.91 221.65,454.91 220.98,455.71 220.02,456.57 219.06,456.99 218.58,457.21 218.1,457.76 217.14,457.83 216.18,456.86 215.22,456.37 214.26,456.84 214.07,456.82 213.3,456.23 212.34,456.86 211.38,457.88 210.42,457.14 209.46,455.81 208.5,455.38 207.54,454.25 206.58,453.23 205.62,453.86 204.66,454.75 203.7,455.28 202.74,455.3 201.78,455.59 200.82,456.25 199.86,456.58 198.9,456.05 197.94,455.65 196.98,456.34 196.21,457.15 196.02,457.42 195.06,457.78 194.1,457.48 193.14,457.08 192.18,457.77 191.22,458.04 190.26,458.08 189.3,458.41 188.63,458.25 188.34,457.95 187.38,457.74 186.42,457.92 185.46,458.46 184.5,458.78 183.54,459.36 182.58,459.48 181.62,459.11 181.04,459.48 180.66,460.19 179.7,460.36 178.74,460.02 177.78,459.86 176.82,460.09 175.86,460.39 174.9,460.58 173.94,460.66 173.56,461.36 172.98,463.01 172.02,463.42 171.06,463.22 170.1,464.05 169.14,464.07 168.18,463.51 167.22,463.95 166.26,464.57 165.97,464.92 165.3,465.49 164.34,465.68 163.38,465.26 162.42,465.13 161.46,466.18 160.5,467.14 159.54,467.11 158.58,467.45 158.48,468.33 157.62,470.02 156.66,470.94 155.7,471.45 154.74,472.72 153.88,474.3 153.78,474.25 152.82,475.03 152.44,474.94 151.86,477.04 150.9,481.45" fill="#ff0000" fill-opacity="0.5"/>
<polyline points="150.9,476.78 151.86,442.75 152.82,432.79 153.78,427.68 154.74,424.71 155.7,422.45 156.66,421.33 157.62,420.14 158.58,419.41 159.54,420.23 160.5,420.73 161.46,421 162.42,420.86 163.38,420.78 164.34,420.3 165.3,419.98 166.26,420 167.22,419.97 168.18,419.69 169.14,419.39 170.1,419.19 171.06,419.17 172.02,419.04 172.98,418.78 173.94,418.76 174.9,418.95 175.86,419.08 176.82,418.98 177.78,418.5 178.74,418.25 179.7,418.47 180.66,418.52 181.62,418.38 182.58,418.16 183.54,418.17 184.5,418.28 185.46,418.16 186.42,418.11 187.38,418.22 188.34,418.35 189.3,418.21 190.26,417.95 191.22,417.84 192.18,417.67 193.14,417.48 194.1,417.43 195.06,417.34 196.02,417.15 196.98,416.94 197.94,416.63 198.9,416.34 199.86,416.28 200.82,416.32 201.78,416.24 202.74,416 203.7,415.71 204.66,415.59 205.62,415.62 206.58,415.6 207.54,415.42 208.5,415.13 209.46,414.83 210.42,414.63 211.38,414.66 212.34,414.7 213.3,414.46 214.26,414.26 215.22,414.37 216.18,414.4 217.14,414.07 218.1,413.72 219.06,413.52 220.02,413.48 220.98,413.59 221.94,413.55 222.9,413.41 223.86,413.37 224.82,413.27 225.78,413.11 226.74,413.07 227.7,412.97 228.66,412.76 229.62,412.73 230.58,412.73 231.54,412.75 232.5,412.97 233.46,413.06 234.42,412.94 235.38,412.76 236.34,412.78 237.3,412.87 238.26,412.89 239.22,412.91 240.18,412.8 241.14,412.74 242.1,412.7 243.06,412.64 244.02,412.71 244.98,412.75 245.94,412.69 246.9,412.76" fill="none" stroke="#0000ff" stroke-width="1.1" stroke-linejoin="round"/>
<polyline points="150.9,476.97 151.86,473.77 152.82,470.11 153.78,466.64 154.74,465.19 155.7,463.92 156.66,462.76 157.62,461.64 158.58,460.45 159.54,459.8 160.5,459.26 161.46,458.55 162.42,457.88 163.38,457.49 164.34,456.96 165.3,456.2 166.26,455.58 167.22,455.15 168.18,454.55 169.14,454 170.1,453.7 171.06,453.35 172.02,452.82 172.98,452.22 173.94,451.74 174.9,451.36 175.86,450.92 176.82,450.64 177.78,450.36 178.74,449.63 179.7,448.82 180.66,448.26 181.62,447.87 182.58,447.59 183.54,447.43 184.5,447.17 185.46,446.66 186.42,446.21 187.38,445.83 188.34,445.35 189.3,445.12 190.26,445.08 191.22,444.85 192.18,444.43 193.14,444.09 194.1,443.88 195.06,443.81 196.02,443.69 196.98,443.26 197.94,442.92 198.9,442.88 199.86,442.68 200.82,442.32 201.78,441.85 202.74,441.29 203.7,440.88 204.66,440.63 205.62,440.3 206.58,440.02 207.54,439.6 208.5,438.9 209.46,438.33 210.42,438.02 211.38,437.78 212.34,437.53 213.3,437.16 214.26,436.8 215.22,436.63 216.18,436.37 217.14,436.21 218.1,436.1 219.06,435.74 220.02,435.28 220.98,435 221.94,434.84 222.9,434.49 223.86,433.97 224.82,433.59 225.78,433.47 226.74,433.36 227.7,433.04 228.66,432.57 229.62,432.09 230.58,431.83 231.54,431.67 232.5,431.44 233.46,431.2 234.42,430.87 235.38,430.63 236.34,430.46 237.3,430.15 238.26,429.91 239.22,429.71 240.18,429.31 241.14,428.89 242.1,428.62 243.06,428.47 244.02,428.29 244.98,427.95 245.94,427.59 246.9,427.21" fill="none" stroke="#ff0000" stroke-width="1.1" stroke-linejoin="round"/>
</g>
<g font-size="9.4" text-anchor="middle"><text transform="translate(151.1,504.4) scale(1,1.03)" >0</text><text transform="translate(198.9,504.4) scale(1,1.03)" >5</text><text transform="translate(246.9,504.4) scale(1,1.03)" >10</text></g>
<rect x="266" y="400.3" width="95.5" height="95.7" fill="none" stroke="#737373" stroke-width="1"/>
<path d="M289.88 400.3v2.8M289.88 496v-2.8M313.75 400.3v2.8M313.75 496v-2.8M337.62 400.3v2.8M337.62 496v-2.8M266 409.2h3M361.5 409.2h-3M266 440.7h3M361.5 440.7h-3M266 472.1h3M361.5 472.1h-3" stroke="#737373" stroke-width="1" fill="none"/>
<g clip-path="url(#cD2)">
<polygon points="266,457.89 266.76,438.4 266.95,436.91 267.53,431.63 267.91,430.76 268.87,428.4 269.06,427.57 269.82,425.59 270.77,423.79 271.73,422.48 272.02,422.03 272.69,421.1 273.64,420.13 274.6,419.08 275.07,418.14 275.55,417.95 276.5,417.2 277.46,415.6 278.42,414.59 279.37,414.44 280.32,414.58 281.09,414.07 281.28,413.59 282.24,413.33 283.19,413.21 284.14,412.77 285.1,412.33 286.06,412.08 287.01,411.96 287.96,411.48 288.63,410.41 288.92,410.23 289.88,410.57 290.83,410.26 291.79,409.8 292.74,409.92 293.69,410.02 294.65,409.56 295.61,408.91 296.18,408.67 296.56,408.47 297.51,408.31 298.47,408.16 299.43,407.6 300.38,407.67 301.33,407.83 302.29,407.28 303.25,407.35 303.72,407.96 304.2,407.98 305.15,407.39 306.11,407.44 307.06,407.98 308.02,408.16 308.21,408.07 308.98,408.29 309.93,408.72 310.88,409.27 311.27,409.47 311.84,409.47 312.8,409.47 313.75,409.47 314.7,409.47 315.66,409.47 316.62,409.47 317.57,409.47 318.52,409.47 319.48,409.47 320.44,409.47 321.39,409.47 322.35,409.47 323.3,409.47 324.25,409.47 325.21,409.47 326.17,409.47 327.12,409.47 328.07,409.47 329.03,409.47 329.99,409.47 330.94,409.47 331.89,409.47 332.85,409.47 333.81,409.47 334.76,409.47 335.72,409.47 336.67,409.47 337.62,409.47 338.58,409.47 339.53,409.47 340.49,409.47 341.44,409.47 342.4,409.47 343.36,409.47 344.31,409.47 345.26,409.47 346.22,409.47 347.18,409.47 348.13,409.47 349.08,409.47 350.04,409.47 351,409.47 351.95,409.47 352.9,409.47 353.86,409.47 354.81,409.47 355.77,409.47 356.73,409.47 357.68,409.47 358.63,409.47 359.59,409.47 360.55,409.47 361.5,409.47 361.5,409.47 360.55,409.47 359.59,409.47 358.63,409.47 357.68,409.47 356.73,409.47 355.77,409.47 354.81,409.47 353.86,409.47 352.9,409.47 351.95,409.47 351,409.47 350.04,409.47 349.08,409.47 348.13,409.47 347.18,409.47 346.22,409.47 345.26,409.47 344.31,409.47 343.36,409.47 342.4,409.47 341.44,409.47 340.49,409.47 339.53,409.47 338.58,409.47 337.62,409.47 336.67,409.47 335.72,409.47 334.76,409.47 333.81,409.47 332.85,409.47 331.89,409.47 330.94,409.47 329.99,409.47 329.03,409.47 328.07,409.47 327.12,409.47 326.17,409.47 325.21,409.47 324.25,409.47 323.3,409.47 322.35,409.47 321.39,409.47 320.44,409.47 319.48,409.47 318.52,409.47 317.57,409.47 316.62,409.47 315.66,409.47 314.7,409.47 313.75,409.47 312.8,409.47 311.84,409.47 311.27,409.47 310.88,409.69 309.93,410.33 308.98,410.94 308.21,411.45 308.02,411.79 307.06,412.26 306.11,412.03 305.15,412.2 304.2,412.84 303.72,412.83 303.25,413.06 302.29,414.14 301.33,415.17 300.38,415.83 299.43,415.75 298.47,414.97 297.51,414.84 296.56,415.68 296.18,416.53 295.61,417.07 294.65,416.77 293.69,416.55 292.74,417.36 291.79,418.07 290.83,418.34 289.88,418.96 288.92,420.01 288.63,420.24 287.96,419.97 287.01,419.96 286.06,420.34 285.1,421.03 284.14,421.84 283.19,422.48 282.24,422.96 281.28,423.65 281.09,423.48 280.32,424.01 279.37,425.66 278.42,426.81 277.46,427.18 276.5,428 275.55,429.14 275.07,429.79 274.6,430.41 273.64,431.55 272.69,432.7 272.02,433.34 271.73,433.97 270.77,435.6 269.82,436.87 269.06,438.02 268.87,438.47 267.91,440.2 267.53,440.31 266.95,446.17 266.76,448.93 266,476.75" fill="#0000ff" fill-opacity="0.5"/>
<polygon points="266,477.09 266.95,468.98 267.53,466.39 267.91,465.25 268.87,462.08 269.06,461.38 269.82,459.77 270.49,458.25 270.77,457.02 271.73,455.33 272.69,454.47 273.54,453.06 273.64,452.42 274.6,451.71 275.07,451.46 275.55,451.04 276.5,450.21 277.46,449.57 278.42,449.21 279.37,448.35 280.32,447.27 281.09,446.34 281.28,445.89 282.24,445.72 283.19,446.58 284.14,446.72 285.1,445.48 286.06,444.93 287.01,444.64 287.96,443.59 288.63,442.88 288.92,442.84 289.88,442.7 290.83,442.5 291.79,442.19 292.74,441.38 293.69,440.12 294.65,439.56 295.61,439.58 296.18,439.48 296.56,439.26 297.51,439.07 298.47,438.65 299.43,437.89 300.38,437.34 301.33,436.71 302.29,436.37 303.25,436.9 303.72,437.08 304.2,436.57 305.15,436.45 306.11,435.87 307.06,434.52 308.02,433.65 308.98,433.46 309.93,433.63 310.88,433.24 311.84,431.88 312.8,430.94 313.75,431.16 314.04,431.66 314.7,431.06 315.66,429.79 316.62,428.92 317.57,428.73 318.52,428.3 319.48,427.69 320.44,427.1 321.39,426.19 321.58,425.97 322.35,425.93 323.3,425.98 324.25,425.55 325.21,424.24 326.17,423.53 327.12,423.81 328.07,423.13 329.03,421.74 329.13,421.58 329.99,421.69 330.94,421.56 331.89,421.1 332.85,420.69 333.81,419.85 334.76,418.94 335.72,418.28 336.67,417.46 337.62,417.27 338.58,417.22 339.53,416.5 340.49,415.73 341.44,415.22 342.4,414.72 343.36,414.06 344.21,414.05 344.31,414.49 345.26,414.19 346.22,414.13 347.18,413.97 348.13,413.39 349.08,412.72 350.04,412.23 351,411.74 351.76,411.48 351.95,411.81 352.9,412.33 353.86,412.21 354.81,411.64 355.77,411.27 356.73,410.18 357.68,410.12 358.63,411.46 359.3,411.7 359.59,411.15 360.55,410.8 361.5,410.16 361.5,442.13 360.55,442.34 359.59,442.35 359.3,443.39 358.63,443.9 357.68,443.3 356.73,443.5 355.77,443.81 354.81,443.64 353.86,443.82 352.9,443.38 351.95,442.98 351.76,443.5 351,444.12 350.04,444.11 349.08,444.36 348.13,445.34 347.18,445.78 346.22,445.6 345.26,445.52 344.31,445.85 344.21,446.75 343.36,447.68 342.4,447.49 341.44,447.37 340.49,447.89 339.53,448.25 338.58,448.57 337.62,448.84 336.67,448.57 335.72,448.11 334.76,448.61 333.81,449.55 332.85,449.68 331.89,449.16 330.94,448.73 329.99,448.85 329.13,449.14 329.03,449.56 328.07,450.4 327.12,450.56 326.17,449.98 325.21,449.73 324.25,450.1 323.3,450.07 322.35,449.69 321.58,449.56 321.39,449.54 320.44,449.46 319.48,449.48 318.52,450.16 317.57,450.96 316.62,451.27 315.66,451.43 314.7,451.59 314.04,451.43 313.75,451.42 312.8,451.72 311.84,451.57 310.88,451.81 309.93,452.2 308.98,452.48 308.02,453.59 307.06,454.1 306.11,453.35 305.15,453.01 304.2,453.62 303.72,454.63 303.25,455.21 302.29,454.81 301.33,455.16 300.38,456.4 299.43,456.73 298.47,456.48 297.51,456.22 296.56,456.65 296.18,457.39 295.61,458.15 294.65,458.79 293.69,459.11 292.74,459.33 291.79,459.23 290.83,459.54 289.88,460.47 288.92,461.2 288.63,461.11 287.96,460.48 287.01,460.48 286.06,461.79 285.1,462.63 284.14,462.43 283.19,462.37 282.24,462.99 281.28,463.38 281.09,463.54 280.32,464.75 279.37,465.56 278.42,465.99 277.46,466.15 276.5,466.55 275.55,467.94 275.07,468.47 274.6,467.86 273.64,468.23 273.54,468.23 272.69,468.89 271.73,470.96 270.77,473.11 270.49,473.04 269.82,474.38 269.06,476.37 268.87,476.88 267.91,479.76 267.53,481.03 266.95,482.48 266,484.45" fill="#ff0000" fill-opacity="0.5"/>
<polyline points="266,477.14 266.95,441.03 267.91,436.35 268.87,433.7 269.82,432.04 270.77,430.7 271.73,429.2 272.69,427.55 273.64,425.91 274.6,424.49 275.55,423.45 276.5,422.66 277.46,421.99 278.42,421.28 279.37,420.53 280.32,419.74 281.28,418.97 282.24,418.41 283.19,417.79 284.14,417.26 285.1,416.83 286.06,416.46 287.01,416.03 287.97,415.55 288.92,415.15 289.88,414.69 290.83,414.23 291.79,413.95 292.74,413.82 293.69,413.75 294.65,413.49 295.61,413.08 296.56,412.72 297.51,412.35 298.47,412.13 299.43,412.08 300.38,411.81 301.33,411.47 302.29,411.15 303.25,410.71 304.2,410.36 305.16,410.19 306.11,410.12 307.06,409.95 308.02,409.8 308.98,409.73 309.93,409.62 310.88,409.53 311.84,409.47 312.8,409.47 313.75,409.47 314.7,409.47 315.66,409.47 316.62,409.47 317.57,409.47 318.52,409.47 319.48,409.47 320.44,409.47 321.39,409.47 322.35,409.47 323.3,409.47 324.25,409.47 325.21,409.47 326.17,409.47 327.12,409.47 328.07,409.47 329.03,409.47 329.99,409.47 330.94,409.47 331.89,409.47 332.85,409.47 333.81,409.47 334.76,409.47 335.72,409.47 336.67,409.47 337.62,409.47 338.58,409.47 339.53,409.47 340.49,409.47 341.44,409.47 342.4,409.47 343.36,409.47 344.31,409.47 345.26,409.47 346.22,409.47 347.18,409.47 348.13,409.47 349.09,409.47 350.04,409.47 351,409.47 351.95,409.47 352.9,409.47 353.86,409.47 354.81,409.47 355.77,409.47 356.73,409.47 357.68,409.47 358.63,409.47 359.59,409.47 360.55,409.47 361.5,409.47" fill="none" stroke="#0000ff" stroke-width="1.1" stroke-linejoin="round"/>
<polyline points="266,479.99 266.95,474.49 267.91,470.27 268.87,468.26 269.82,466.29 270.77,464.59 271.73,463.73 272.69,462.92 273.64,461.98 274.6,460.97 275.55,460.07 276.5,459.35 277.46,458.55 278.42,457.63 279.37,456.72 280.32,455.95 281.28,455.42 282.24,455.11 283.19,454.67 284.14,454.08 285.1,453.59 286.06,453.27 287.01,452.9 287.97,452.42 288.92,451.87 289.88,451.35 290.83,450.97 291.79,450.62 292.74,450.15 293.69,449.52 294.65,449.03 295.61,448.78 296.56,448.4 297.51,447.74 298.47,447.11 299.43,446.88 300.38,446.7 301.33,446.22 302.29,445.85 303.25,445.61 304.2,445.18 305.16,444.63 306.11,444.17 307.06,443.82 308.02,443.47 308.98,442.94 309.93,442.43 310.88,442.26 311.84,442.02 312.8,441.41 313.75,440.89 314.7,440.64 315.66,440.23 316.62,439.64 317.57,439.23 318.52,438.84 319.48,438.38 320.44,438.09 321.39,437.94 322.35,437.55 323.3,436.94 324.25,436.51 325.21,436.1 326.17,435.8 327.12,435.55 328.07,435.15 329.03,434.81 329.99,434.57 330.94,434.24 331.89,433.97 332.85,433.79 333.81,433.36 334.76,432.88 335.72,432.7 336.67,432.63 337.62,432.36 338.58,432.06 339.53,431.76 340.49,431.24 341.44,430.89 342.4,430.7 343.36,430.37 344.31,430.08 345.26,429.83 346.22,429.57 347.18,429.26 348.13,428.96 349.09,428.79 350.04,428.46 351,428.02 351.95,427.78 352.9,427.67 353.86,427.51 354.81,427.43 355.77,427.3 356.73,426.89 357.68,426.53 358.63,426.46 359.59,426.38 360.55,426.24 361.5,426" fill="none" stroke="#ff0000" stroke-width="1.1" stroke-linejoin="round"/>
</g>
<g font-size="9.4" text-anchor="middle"><text transform="translate(266.2,504.4) scale(1,1.03)" >0</text><text transform="translate(313.75,504.4) scale(1,1.03)" >5</text><text transform="translate(361.5,504.4) scale(1,1.03)" >10</text></g>
<g font-size="9.7">
<text transform="translate(72,7.4) scale(1,1.08)" >3 Links</text>
<text transform="translate(176.6,7.4) scale(1,1.08)" >4 Links</text>
<text transform="translate(281.8,7.4) scale(1,1.08)" >5 Links</text>
<text transform="translate(72,278) scale(1,1.08)" >3 Links</text>
<text transform="translate(176.6,278) scale(1,1.08)" >4 Links</text>
<text transform="translate(281.8,278) scale(1,1.08)" >5 Links</text>
<text transform="translate(182.7,245.9) scale(1,1.08)" >Time</text>
<text transform="translate(183.2,516) scale(1,1.08)" >Time</text>
<text transform="translate(7.5,120.5) rotate(-90) scale(1,1.05)" text-anchor="middle">Energy violation</text>
<text transform="translate(7.5,390.9) rotate(-90) scale(1,1.05)" text-anchor="middle">Rollout error</text>
<text transform="translate(372.9,75.2) rotate(-90) scale(1,1.02)" >Pendulum</text>
<text transform="translate(372.9,345.5) rotate(-90) scale(1,1.02)" >Pendulum</text>
<text transform="translate(372.5,205.7) rotate(-90) scale(1,1.04)" font-size="9.2">Spring</text>
<text transform="translate(372.5,476.7) rotate(-90) scale(1,1.04)" font-size="9.2">Spring</text>
</g><g font-size="8.8">
<text transform="translate(165.8,259.8) scale(1,1.03)" >LNN</text>
<text transform="translate(227.6,259.8) scale(1,1.03)" >LGNN</text>
<text transform="translate(165.8,530.2) scale(1,1.03)" >LNN</text>
<text transform="translate(227.6,530.2) scale(1,1.03)" >LGNN</text>
</g>
<path d="M140.2 256.5h18.4" stroke="#6f6fff" stroke-width="1"/>
<path d="M202 256.5h18" stroke="#ff6f6f" stroke-width="1"/>
<path d="M139.8 527h18.4" stroke="#4848ff" stroke-width="1.15"/>
<path d="M201.9 527h18" stroke="#ff4848" stroke-width="1.15"/>
</svg>
</body></html>
